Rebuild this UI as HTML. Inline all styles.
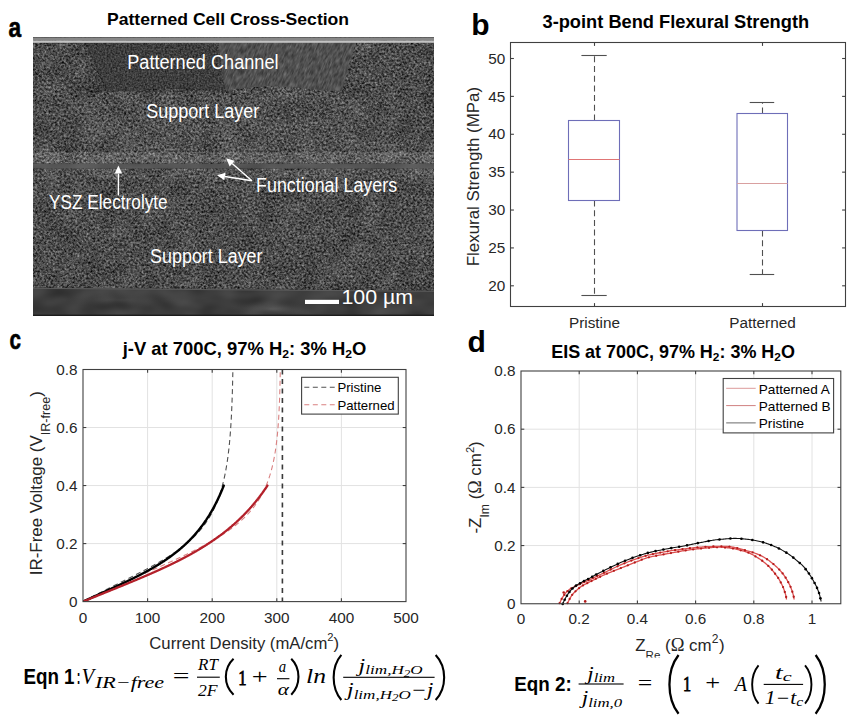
<!DOCTYPE html><html><head><meta charset="utf-8"><style>html,body{margin:0;padding:0;background:#fff;width:868px;height:720px;overflow:hidden}svg{display:block}</style></head><body>
<svg width="868" height="720" viewBox="0 0 868 720" font-family="Liberation Sans, sans-serif">
<defs><radialGradient id="blob"><stop offset="0" stop-color="rgb(88,88,88)"/><stop offset="1" stop-color="rgb(61,61,61)" stop-opacity="0"/></radialGradient><clipPath id="semclip"><rect x="33" y="37" width="401" height="279"/></clipPath><filter id="grain" x="0" y="0" width="100%" height="100%" color-interpolation-filters="sRGB"><feTurbulence type="fractalNoise" baseFrequency="0.45" numOctaves="3" seed="7" result="n"/><feColorMatrix in="n" type="matrix" values="1 0 0 0 0  1 0 0 0 0  1 0 0 0 0  0 0 0 0 1" result="g0"/><feGaussianBlur in="g0" stdDeviation="0.5" result="g"/><feTurbulence type="fractalNoise" baseFrequency="0.05" numOctaves="2" seed="4" result="n2"/><feColorMatrix in="n2" type="matrix" values="1 0 0 0 0  1 0 0 0 0  1 0 0 0 0  0 0 0 0 1" result="m"/><feComposite in="SourceGraphic" in2="g" operator="arithmetic" k1="0" k2="1" k3="0.7" k4="-0.35" result="s1"/><feComposite in="s1" in2="m" operator="arithmetic" k1="0" k2="1" k3="0.15" k4="-0.075"/></filter><filter id="grainfine" x="0" y="0" width="100%" height="100%" color-interpolation-filters="sRGB"><feTurbulence type="fractalNoise" baseFrequency="0.55" numOctaves="2" seed="3" result="n"/><feColorMatrix in="n" type="matrix" values="1 0 0 0 0  1 0 0 0 0  1 0 0 0 0  0 0 0 0 1" result="g"/><feComposite in="SourceGraphic" in2="g" operator="arithmetic" k1="0" k2="1" k3="0.4" k4="-0.2"/></filter><filter id="streak" x="0" y="0" width="100%" height="100%" color-interpolation-filters="sRGB"><feTurbulence type="fractalNoise" baseFrequency="0.6 0.15" numOctaves="2" seed="11" result="n"/><feColorMatrix in="n" type="matrix" values="1 0 0 0 0  1 0 0 0 0  1 0 0 0 0  0 0 0 0 1" result="g"/><feComposite in="SourceGraphic" in2="g" operator="arithmetic" k1="0" k2="1" k3="0.36" k4="-0.18"/></filter><filter id="smooth" x="0" y="0" width="100%" height="100%" color-interpolation-filters="sRGB"><feTurbulence type="fractalNoise" baseFrequency="0.03 0.06" numOctaves="2" seed="5" result="n"/><feColorMatrix in="n" type="matrix" values="1 0 0 0 0  1 0 0 0 0  1 0 0 0 0  0 0 0 0 1" result="g"/><feComposite in="SourceGraphic" in2="g" operator="arithmetic" k1="0" k2="1" k3="0.18" k4="-0.09"/></filter><clipPath id="cclip"><rect x="83" y="369.5" width="323" height="232.1"/></clipPath><clipPath id="dclip"><rect x="521" y="371" width="319.8" height="236"/></clipPath></defs>
<text x="471.2" y="35.4" font-size="30" font-weight="bold" fill="#000">b</text>
<text x="467.6" y="352.2" font-size="30" font-weight="bold" fill="#000">d</text>
<g clip-path="url(#semclip)">
<g filter="url(#grain)">
<rect x="33" y="37" width="401" height="279" fill="rgb(76,76,76)"/>
<polygon points="100,92 140,90 180,88 225,89 260,90 300,92 343,92 360,100 380,140 380,150 90,150 80,120" fill="rgb(82,82,82)" opacity="0.9"/>
<rect x="33" y="152" width="401" height="11.7" fill="rgb(96,96,96)"/>
<rect x="33" y="168.5" width="401" height="10" fill="rgb(84,84,84)"/>
</g>
<g filter="url(#grainfine)">
<polygon points="85,40 219,40 225,90 180,88.5 140,90 108,91.5 96,68" fill="rgb(62,62,62)"/>
</g>
<clipPath id="chanR"><polygon points="218,40 357,40 350,62 342,91 320,90 300,88 270,86 245,88 225,90"/></clipPath>
<g clip-path="url(#chanR)"><g transform="rotate(22 290 65)"><g filter="url(#streak)">
<rect x="190" y="-10" width="200" height="150" fill="rgb(80,80,80)"/>
</g></g></g>
<g filter="url(#smooth)">
<rect x="33" y="163.7" width="401" height="4.8" fill="rgb(86,86,86)"/>
</g>
<g filter="url(#smooth)">
<polygon points="33,287.8 434,290.8 434,316 33,316" fill="rgb(61,61,61)"/>
<ellipse cx="272" cy="309" rx="45" ry="9" fill="url(#blob)"/>
<ellipse cx="120" cy="300" rx="60" ry="8" fill="url(#blob)" opacity="0.5"/>
</g>
<line x1="33" y1="288.3" x2="434" y2="291.3" stroke="rgb(92,92,92)" stroke-width="1"/>
<rect x="33" y="314.6" width="401" height="1.6" fill="#1c1c1c"/>
<rect x="33" y="37" width="401" height="0.8" fill="rgb(90,90,90)"/>
<rect x="33" y="37.8" width="401" height="2.8" fill="rgb(135,135,135)"/>
<rect x="33" y="40.6" width="401" height="2.2" fill="rgb(195,195,195)"/>
</g>
<text x="127.2" y="68.5" font-size="20" fill="#fff" textLength="151.4" lengthAdjust="spacingAndGlyphs">Patterned Channel</text>
<text x="146.2" y="118.4" font-size="20" fill="#fff" textLength="113" lengthAdjust="spacingAndGlyphs">Support Layer</text>
<text x="256.1" y="191.7" font-size="20" fill="#fff" textLength="141" lengthAdjust="spacingAndGlyphs">Functional Layers</text>
<text x="49" y="208.8" font-size="20" fill="#fff" textLength="118.7" lengthAdjust="spacingAndGlyphs">YSZ Electrolyte</text>
<text x="150.1" y="263.2" font-size="20" fill="#fff" textLength="112.4" lengthAdjust="spacingAndGlyphs">Support Layer</text>
<text x="341.4" y="304.3" font-size="21" fill="#fff" textLength="71.8" lengthAdjust="spacingAndGlyphs">100 µm</text>
<rect x="305" y="299.8" width="34" height="4.2" fill="#fff"/>
<line x1="118.4" y1="195.5" x2="118.4" y2="173.5" stroke="#fff" stroke-width="1.4"/>
<polygon points="118.4,165.5 122.15,173.5 114.65,173.5" fill="#fff"/>
<line x1="252" y1="180.8" x2="232.14" y2="163.55" stroke="#fff" stroke-width="1.4"/>
<polygon points="226.1,158.3 234.6,160.72 229.68,166.38" fill="#fff"/>
<line x1="252" y1="180.8" x2="224.9" y2="176.46" stroke="#fff" stroke-width="1.4"/>
<polygon points="217,175.2 225.49,172.76 224.31,180.17" fill="#fff"/>
<rect x="510.5" y="42.5" width="335" height="264" fill="none" stroke="#404040" stroke-width="1.1"/>
<line x1="510.5" y1="285.8" x2="513.9" y2="285.8" stroke="#404040" stroke-width="1.1"/>
<line x1="842.1" y1="285.8" x2="845.5" y2="285.8" stroke="#404040" stroke-width="1.1"/>
<text x="505.2" y="291" font-size="15.3" fill="#262626" text-anchor="end">20</text>
<line x1="510.5" y1="247.92" x2="513.9" y2="247.92" stroke="#404040" stroke-width="1.1"/>
<line x1="842.1" y1="247.92" x2="845.5" y2="247.92" stroke="#404040" stroke-width="1.1"/>
<text x="505.2" y="253.12" font-size="15.3" fill="#262626" text-anchor="end">25</text>
<line x1="510.5" y1="210.03" x2="513.9" y2="210.03" stroke="#404040" stroke-width="1.1"/>
<line x1="842.1" y1="210.03" x2="845.5" y2="210.03" stroke="#404040" stroke-width="1.1"/>
<text x="505.2" y="215.23" font-size="15.3" fill="#262626" text-anchor="end">30</text>
<line x1="510.5" y1="172.15" x2="513.9" y2="172.15" stroke="#404040" stroke-width="1.1"/>
<line x1="842.1" y1="172.15" x2="845.5" y2="172.15" stroke="#404040" stroke-width="1.1"/>
<text x="505.2" y="177.35" font-size="15.3" fill="#262626" text-anchor="end">35</text>
<line x1="510.5" y1="134.27" x2="513.9" y2="134.27" stroke="#404040" stroke-width="1.1"/>
<line x1="842.1" y1="134.27" x2="845.5" y2="134.27" stroke="#404040" stroke-width="1.1"/>
<text x="505.2" y="139.47" font-size="15.3" fill="#262626" text-anchor="end">40</text>
<line x1="510.5" y1="96.38" x2="513.9" y2="96.38" stroke="#404040" stroke-width="1.1"/>
<line x1="842.1" y1="96.38" x2="845.5" y2="96.38" stroke="#404040" stroke-width="1.1"/>
<text x="505.2" y="101.58" font-size="15.3" fill="#262626" text-anchor="end">45</text>
<line x1="510.5" y1="58.5" x2="513.9" y2="58.5" stroke="#404040" stroke-width="1.1"/>
<line x1="842.1" y1="58.5" x2="845.5" y2="58.5" stroke="#404040" stroke-width="1.1"/>
<text x="505.2" y="63.7" font-size="15.3" fill="#262626" text-anchor="end">50</text>
<line x1="594.5" y1="42.5" x2="594.5" y2="45.9" stroke="#404040" stroke-width="1.1"/>
<line x1="594.5" y1="303.1" x2="594.5" y2="306.5" stroke="#404040" stroke-width="1.1"/>
<text x="594.5" y="327.8" font-size="15.3" fill="#262626" text-anchor="middle">Pristine</text>
<line x1="762.5" y1="42.5" x2="762.5" y2="45.9" stroke="#404040" stroke-width="1.1"/>
<line x1="762.5" y1="303.1" x2="762.5" y2="306.5" stroke="#404040" stroke-width="1.1"/>
<text x="762.5" y="327.8" font-size="15.3" fill="#262626" text-anchor="middle">Patterned</text>
<text transform="translate(478.6 176.6) rotate(-90)" font-size="16.9" fill="#262626" text-anchor="middle">Flexural Strength (MPa)</text>
<line x1="594.5" y1="120.5" x2="594.5" y2="55.5" stroke="#505050" stroke-width="1.1" stroke-dasharray="6 3.7"/>
<line x1="594.5" y1="200.5" x2="594.5" y2="295.5" stroke="#505050" stroke-width="1.1" stroke-dasharray="6 3.7"/>
<line x1="581.4" y1="55.5" x2="606.7" y2="55.5" stroke="#505050" stroke-width="1.1"/>
<line x1="581.4" y1="295.5" x2="606.7" y2="295.5" stroke="#505050" stroke-width="1.1"/>
<rect x="568.5" y="120.5" width="51" height="80" fill="none" stroke="#6e6eb8" stroke-width="1.1"/>
<line x1="568.5" y1="159.5" x2="619.5" y2="159.5" stroke="#e07575" stroke-width="1.1"/>
<line x1="762.5" y1="113.5" x2="762.5" y2="102.5" stroke="#505050" stroke-width="1.1" stroke-dasharray="6 3.7"/>
<line x1="762.5" y1="230.5" x2="762.5" y2="274.5" stroke="#505050" stroke-width="1.1" stroke-dasharray="6 3.7"/>
<line x1="749.7" y1="102.5" x2="774.2" y2="102.5" stroke="#505050" stroke-width="1.1"/>
<line x1="749.7" y1="274.5" x2="774.2" y2="274.5" stroke="#505050" stroke-width="1.1"/>
<rect x="737" y="113.5" width="50.5" height="117" fill="none" stroke="#6e6eb8" stroke-width="1.1"/>
<line x1="737" y1="183.5" x2="787.5" y2="183.5" stroke="#d9a0a0" stroke-width="1.1"/>
<line x1="147.6" y1="369.5" x2="147.6" y2="601.6" stroke="#e2e2e2" stroke-width="1"/>
<line x1="212.2" y1="369.5" x2="212.2" y2="601.6" stroke="#e2e2e2" stroke-width="1"/>
<line x1="276.8" y1="369.5" x2="276.8" y2="601.6" stroke="#e2e2e2" stroke-width="1"/>
<line x1="341.4" y1="369.5" x2="341.4" y2="601.6" stroke="#e2e2e2" stroke-width="1"/>
<line x1="83" y1="543.58" x2="406" y2="543.58" stroke="#e2e2e2" stroke-width="1"/>
<line x1="83" y1="485.55" x2="406" y2="485.55" stroke="#e2e2e2" stroke-width="1"/>
<line x1="83" y1="427.52" x2="406" y2="427.52" stroke="#e2e2e2" stroke-width="1"/>
<line x1="282.4" y1="369.5" x2="282.4" y2="601.6" stroke="#3a3a3a" stroke-width="1.6" stroke-dasharray="5 4.5"/>
<g clip-path="url(#cclip)">
<path d="M83 601.6 L83.16 601.52 L83.32 601.45 L83.48 601.37 L83.65 601.29 L83.81 601.21 L83.97 601.14 L84.13 601.06 L84.29 600.98 L84.45 600.9 L84.61 600.83 L84.78 600.75 L84.94 600.67 L85.1 600.6 L85.26 600.52 L85.42 600.44 L85.58 600.37 L85.75 600.29 L85.91 600.21 L86.07 600.13 L86.23 600.06 L86.39 599.98 L86.55 599.9 L86.71 599.83 L86.88 599.75 L87.04 599.67 L87.2 599.6 L87.36 599.52 L87.52 599.44 L87.68 599.37 L87.84 599.29 L88.01 599.21 L88.17 599.14 L88.33 599.06 L88.49 598.98 L88.65 598.91 L88.81 598.83 L88.98 598.75 L89.14 598.68 L89.3 598.6 L89.46 598.53 L89.62 598.45 L89.78 598.37 L89.94 598.3 L90.11 598.22 L90.27 598.14 L90.43 598.07 L90.59 597.99 L90.75 597.92 L90.91 597.84 L91.08 597.76 L91.24 597.69 L91.4 597.61 L91.56 597.53 L91.72 597.46 L91.88 597.38 L92.04 597.31 L92.21 597.23 L92.37 597.15 L92.53 597.08 L92.69 597 L92.85 596.93 L93.01 596.85 L93.17 596.77 L93.34 596.7 L93.5 596.62 L93.66 596.55 L93.82 596.47 L93.98 596.4 L94.14 596.32 L94.31 596.24 L94.47 596.17 L94.63 596.09 L94.79 596.02 L94.95 595.94 L95.11 595.87 L95.27 595.79 L95.44 595.72 L95.6 595.64 L95.76 595.56 L95.92 595.49 L96.08 595.41 L96.24 595.34 L96.4 595.26 L96.57 595.19 L96.73 595.11 L96.89 595.04 L97.05 594.96 L97.21 594.89 L97.37 594.81 L97.53 594.74 L97.7 594.66 L97.86 594.58 L98.02 594.51 L98.18 594.43 L98.34 594.36 L98.5 594.28 L98.67 594.21 L98.83 594.13 L98.99 594.06 L99.15 593.98 L99.31 593.91 L99.47 593.83 L99.63 593.76 L99.8 593.68 L99.96 593.61 L100.12 593.53 L100.28 593.46 L100.44 593.38 L100.6 593.31 L100.77 593.23 L100.93 593.16 L101.09 593.08 L101.25 593.01 L101.41 592.94 L101.57 592.86 L101.73 592.79 L101.9 592.71 L102.06 592.64 L102.22 592.56 L102.38 592.49 L102.54 592.41 L102.7 592.34 L102.86 592.26 L103.03 592.19 L103.19 592.11 L103.35 592.04 L103.51 591.97 L103.67 591.89 L103.83 591.82 L104 591.74 L104.16 591.67 L104.32 591.59 L104.48 591.52 L104.64 591.44 L104.8 591.37 L104.96 591.3 L105.13 591.22 L105.29 591.15 L105.45 591.07 L105.61 591 L105.77 590.92 L105.93 590.85 L106.09 590.78 L106.26 590.7 L106.42 590.63 L106.58 590.55 L106.74 590.48 L106.9 590.4 L107.06 590.33 L107.22 590.26 L107.39 590.18 L107.55 590.11 L107.71 590.03 L107.87 589.96 L108.03 589.89 L108.19 589.81 L108.36 589.74 L108.52 589.66 L108.68 589.59 L108.84 589.52 L109 589.44 L109.16 589.37 L109.32 589.3 L109.49 589.22 L109.65 589.15 L109.81 589.07 L109.97 589 L110.13 588.93 L110.29 588.85 L110.45 588.78 L110.62 588.71 L110.78 588.63 L110.94 588.56 L111.1 588.48 L111.26 588.41 L111.42 588.34 L111.59 588.26 L111.75 588.19 L111.91 588.12 L112.07 588.04 L112.23 587.97 L112.39 587.9 L112.55 587.82 L112.72 587.75 L112.88 587.68 L113.04 587.6 L113.2 587.53 L113.36 587.45 L113.52 587.38 L113.69 587.31 L113.85 587.23 L114.01 587.16 L114.17 587.09 L114.33 587.01 L114.49 586.94 L114.65 586.87 L114.82 586.79 L114.98 586.72 L115.14 586.65 L115.3 586.57 L115.46 586.5 L115.62 586.43 L115.78 586.36 L115.95 586.28 L116.11 586.21 L116.27 586.14 L116.43 586.06 L116.59 585.99 L116.75 585.92 L116.91 585.84 L117.08 585.77 L117.24 585.7 L117.4 585.62 L117.56 585.55 L117.72 585.48 L117.88 585.41 L118.05 585.33 L118.21 585.26 L118.37 585.19 L118.53 585.11 L118.69 585.04 L118.85 584.97 L119.01 584.89 L119.18 584.82 L119.34 584.75 L119.5 584.68 L119.66 584.6 L119.82 584.53 L119.98 584.46 L120.15 584.38 L120.31 584.31 L120.47 584.24 L120.63 584.17 L120.79 584.09 L120.95 584.02 L121.11 583.95 L121.28 583.88 L121.44 583.8 L121.6 583.73 L121.76 583.66 L121.92 583.58 L122.08 583.51 L122.24 583.44 L122.41 583.37 L122.57 583.29 L122.73 583.22 L122.89 583.15 L123.05 583.08 L123.21 583 L123.38 582.93 L123.54 582.86 L123.7 582.79 L123.86 582.71 L124.02 582.64 L124.18 582.57 L124.34 582.5 L124.51 582.42 L124.67 582.35 L124.83 582.28 L124.99 582.21 L125.15 582.13 L125.31 582.06 L125.47 581.99 L125.64 581.92 L125.8 581.84 L125.96 581.77 L126.12 581.7 L126.28 581.63 L126.44 581.55 L126.6 581.48 L126.77 581.41 L126.93 581.34 L127.09 581.26 L127.25 581.19 L127.41 581.12 L127.57 581.05 L127.74 580.98 L127.9 580.9 L128.06 580.83 L128.22 580.76 L128.38 580.69 L128.54 580.61 L128.7 580.54 L128.87 580.47 L129.03 580.4 L129.19 580.33 L129.35 580.25 L129.51 580.18 L129.67 580.11 L129.84 580.04 L130 579.96 L130.16 579.89 L130.32 579.82 L130.48 579.75 L130.64 579.68 L130.8 579.6 L130.97 579.53 L131.13 579.46 L131.29 579.39 L131.45 579.32 L131.61 579.24 L131.77 579.17 L131.93 579.1 L132.1 579.03 L132.26 578.95 L132.42 578.88 L132.58 578.81 L132.74 578.74 L132.9 578.67 L133.06 578.59 L133.23 578.52 L133.39 578.45 L133.55 578.38 L133.71 578.31 L133.87 578.23 L134.03 578.16 L134.2 578.09 L134.36 578.02 L134.52 577.95 L134.68 577.87 L134.84 577.8 L135 577.73 L135.16 577.66 L135.33 577.59 L135.49 577.51 L135.65 577.44 L135.81 577.37 L135.97 577.3 L136.13 577.23 L136.3 577.16 L136.46 577.08 L136.62 577.01 L136.78 576.94 L136.94 576.87 L137.1 576.8 L137.26 576.72 L137.43 576.65 L137.59 576.58 L137.75 576.51 L137.91 576.44 L138.07 576.36 L138.23 576.29 L138.39 576.22 L138.56 576.15 L138.72 576.08 L138.88 576.01 L139.04 575.93 L139.2 575.86 L139.36 575.79 L139.53 575.72 L139.69 575.65 L139.85 575.57 L140.01 575.5 L140.17 575.43 L140.33 575.36 L140.49 575.29 L140.66 575.21 L140.82 575.14 L140.98 575.07 L141.14 575 L141.3 574.93 L141.46 574.86 L141.62 574.78 L141.79 574.71 L141.95 574.64 L142.11 574.57 L142.27 574.5 L142.43 574.42 L142.59 574.35 L142.75 574.28 L142.92 574.21 L143.08 574.14 L143.24 574.07 L143.4 573.99 L143.56 573.92 L143.72 573.85 L143.89 573.78 L144.05 573.71 L144.21 573.63 L144.37 573.56 L144.53 573.49 L144.69 573.42 L144.85 573.35 L145.02 573.28 L145.18 573.2 L145.34 573.13 L145.5 573.06 L145.66 572.99 L145.82 572.92 L145.99 572.84 L146.15 572.77 L146.31 572.7 L146.47 572.63 L146.63 572.56 L146.79 572.49 L146.95 572.41 L147.12 572.34 L147.28 572.27 L147.44 572.2 L147.6 572.13 L147.76 572.05 L147.92 571.98 L148.08 571.91 L148.25 571.84 L148.41 571.77 L148.57 571.7 L148.73 571.62 L148.89 571.55 L149.05 571.48 L149.22 571.41 L149.38 571.34 L149.54 571.26 L149.7 571.19 L149.86 571.12 L150.02 571.05 L150.18 570.98 L150.35 570.9 L150.51 570.83 L150.67 570.76 L150.83 570.69 L150.99 570.62 L151.15 570.54 L151.31 570.47 L151.48 570.4 L151.64 570.33 L151.8 570.26 L151.96 570.18 L152.12 570.11 L152.28 570.04 L152.44 569.97 L152.61 569.9 L152.77 569.82 L152.93 569.75 L153.09 569.68 L153.25 569.61 L153.41 569.54 L153.58 569.46 L153.74 569.39 L153.9 569.32 L154.06 569.25 L154.22 569.18 L154.38 569.1 L154.54 569.03 L154.71 568.96 L154.87 568.89 L155.03 568.81 L155.19 568.74 L155.35 568.67 L155.51 568.6 L155.68 568.53 L155.84 568.45 L156 568.38 L156.16 568.31 L156.32 568.24 L156.48 568.16 L156.64 568.09 L156.81 568.02 L156.97 567.95 L157.13 567.88 L157.29 567.8 L157.45 567.73 L157.61 567.66 L157.77 567.59 L157.94 567.51 L158.1 567.44 L158.26 567.37 L158.42 567.3 L158.58 567.22 L158.74 567.15 L158.91 567.08 L159.07 567.01 L159.23 566.93 L159.39 566.86 L159.55 566.79 L159.71 566.72 L159.87 566.64 L160.04 566.57 L160.2 566.5 L160.36 566.43 L160.52 566.35 L160.68 566.28 L160.84 566.21 L161 566.14 L161.17 566.06 L161.33 565.99 L161.49 565.92 L161.65 565.85 L161.81 565.77 L161.97 565.7 L162.13 565.63 L162.3 565.56 L162.46 565.48 L162.62 565.41 L162.78 565.34 L162.94 565.26 L163.1 565.19 L163.27 565.12 L163.43 565.05 L163.59 564.97 L163.75 564.9 L163.91 564.83 L164.07 564.75 L164.23 564.68 L164.4 564.61 L164.56 564.53 L164.72 564.46 L164.88 564.39 L165.04 564.32 L165.2 564.24 L165.37 564.17 L165.53 564.1 L165.69 564.02 L165.85 563.95 L166.01 563.88 L166.17 563.8 L166.33 563.73 L166.5 563.66 L166.66 563.58 L166.82 563.51 L166.98 563.44 L167.14 563.36 L167.3 563.29 L167.46 563.22 L167.63 563.14 L167.79 563.07 L167.95 563 L168.11 562.92 L168.27 562.85 L168.43 562.78 L168.59 562.7 L168.76 562.63 L168.92 562.55 L169.08 562.48 L169.24 562.41 L169.4 562.33 L169.56 562.26 L169.73 562.19 L169.89 562.11 L170.05 562.04 L170.21 561.97 L170.37 561.89 L170.53 561.82 L170.69 561.74 L170.86 561.67 L171.02 561.6 L171.18 561.52 L171.34 561.45 L171.5 561.37 L171.66 561.3 L171.82 561.23 L171.99 561.15 L172.15 561.08 L172.31 561 L172.47 560.93 L172.63 560.85 L172.79 560.78 L172.96 560.71 L173.12 560.63 L173.28 560.56 L173.44 560.48 L173.6 560.41 L173.76 560.33 L173.92 560.26 L174.09 560.18 L174.25 560.11 L174.41 560.04 L174.57 559.96 L174.73 559.89 L174.89 559.81 L175.06 559.74 L175.22 559.66 L175.38 559.59 L175.54 559.51 L175.7 559.44 L175.86 559.36 L176.02 559.29 L176.19 559.21 L176.35 559.14 L176.51 559.06 L176.67 558.99 L176.83 558.91 L176.99 558.84 L177.15 558.76 L177.32 558.69 L177.48 558.61 L177.64 558.54 L177.8 558.46 L177.96 558.39 L178.12 558.31 L178.28 558.23 L178.45 558.16 L178.61 558.08 L178.77 558.01 L178.93 557.93 L179.09 557.86 L179.25 557.78 L179.42 557.7 L179.58 557.63 L179.74 557.55 L179.9 557.48 L180.06 557.4 L180.22 557.33 L180.38 557.25 L180.55 557.17 L180.71 557.1 L180.87 557.02 L181.03 556.94 L181.19 556.87 L181.35 556.79 L181.51 556.72 L181.68 556.64 L181.84 556.56 L182 556.49 L182.16 556.41 L182.32 556.33 L182.48 556.26 L182.65 556.18 L182.81 556.1 L182.97 556.03 L183.13 555.95 L183.29 555.87 L183.45 555.8 L183.61 555.72 L183.78 555.64 L183.94 555.57 L184.1 555.49 L184.26 555.41 L184.42 555.33 L184.58 555.26 L184.75 555.18 L184.91 555.1 L185.07 555.03 L185.23 554.95 L185.39 554.87 L185.55 554.79 L185.71 554.71 L185.88 554.64 L186.04 554.56 L186.2 554.48 L186.36 554.4 L186.52 554.33 L186.68 554.25 L186.84 554.17 L187.01 554.09 L187.17 554.01 L187.33 553.94 L187.49 553.86 L187.65 553.78 L187.81 553.7 L187.97 553.62 L188.14 553.54 L188.3 553.47 L188.46 553.39 L188.62 553.31 L188.78 553.23 L188.94 553.15 L189.11 553.07 L189.27 552.99 L189.43 552.91 L189.59 552.84 L189.75 552.76 L189.91 552.68 L190.07 552.6 L190.24 552.52 L190.4 552.44 L190.56 552.36 L190.72 552.28 L190.88 552.2 L191.04 552.12 L191.2 552.04 L191.37 551.96 L191.53 551.88 L191.69 551.8 L191.85 551.72 L192.01 551.64 L192.17 551.56 L192.34 551.48 L192.5 551.4 L192.66 551.32 L192.82 551.24 L192.98 551.16 L193.14 551.08 L193.3 551 L193.47 550.92 L193.63 550.84 L193.79 550.76 L193.95 550.68 L194.11 550.6 L194.27 550.52 L194.44 550.43 L194.6 550.35 L194.76 550.27 L194.92 550.19 L195.08 550.11 L195.24 550.03 L195.4 549.95 L195.57 549.86 L195.73 549.78 L195.89 549.7 L196.05 549.62 L196.21 549.54 L196.37 549.46 L196.53 549.37 L196.7 549.29 L196.86 549.21 L197.02 549.13 L197.18 549.04 L197.34 548.96 L197.5 548.88 L197.67 548.8 L197.83 548.71 L197.99 548.63 L198.15 548.55 L198.31 548.47 L198.47 548.38 L198.63 548.3 L198.8 548.22 L198.96 548.13 L199.12 548.05 L199.28 547.97 L199.44 547.88 L199.6 547.8 L199.76 547.71 L199.93 547.63 L200.09 547.55 L200.25 547.46 L200.41 547.38 L200.57 547.29 L200.73 547.21 L200.89 547.12 L201.06 547.04 L201.22 546.96 L201.38 546.87 L201.54 546.79 L201.7 546.7 L201.86 546.62 L202.03 546.53 L202.19 546.45 L202.35 546.36 L202.51 546.27 L202.67 546.19 L202.83 546.1 L202.99 546.02 L203.16 545.93 L203.32 545.85 L203.48 545.76 L203.64 545.67 L203.8 545.59 L203.96 545.5 L204.12 545.41 L204.29 545.33 L204.45 545.24 L204.61 545.15 L204.77 545.07 L204.93 544.98 L205.09 544.89 L205.26 544.8 L205.42 544.72 L205.58 544.63 L205.74 544.54 L205.9 544.45 L206.06 544.37 L206.22 544.28 L206.39 544.19 L206.55 544.1 L206.71 544.01 L206.87 543.93 L207.03 543.84 L207.19 543.75 L207.36 543.66 L207.52 543.57 L207.68 543.48 L207.84 543.39 L208 543.3 L208.16 543.21 L208.32 543.12 L208.49 543.03 L208.65 542.94 L208.81 542.85 L208.97 542.76 L209.13 542.67 L209.29 542.58 L209.45 542.49 L209.62 542.4 L209.78 542.31 L209.94 542.22 L210.1 542.13 L210.26 542.04 L210.42 541.95 L210.58 541.86 L210.75 541.76 L210.91 541.67 L211.07 541.58 L211.23 541.49 L211.39 541.4 L211.55 541.3 L211.72 541.21 L211.88 541.12 L212.04 541.03 L212.2 540.93 L212.36 540.84 L212.52 540.75 L212.68 540.65 L212.85 540.56 L213.01 540.47 L213.17 540.37 L213.33 540.28 L213.49 540.18 L213.65 540.09 L213.81 540 L213.98 539.9 L214.14 539.81 L214.3 539.71 L214.46 539.62 L214.62 539.52 L214.78 539.43 L214.95 539.33 L215.11 539.23 L215.27 539.14 L215.43 539.04 L215.59 538.95 L215.75 538.85 L215.91 538.75 L216.08 538.66 L216.24 538.56 L216.4 538.46 L216.56 538.36 L216.72 538.27 L216.88 538.17 L217.04 538.07 L217.21 537.97 L217.37 537.88 L217.53 537.78 L217.69 537.68 L217.85 537.58 L218.01 537.48 L218.18 537.38 L218.34 537.28 L218.5 537.18 L218.66 537.08 L218.82 536.98 L218.98 536.88 L219.14 536.78 L219.31 536.68 L219.47 536.58 L219.63 536.48 L219.79 536.38 L219.95 536.28 L220.11 536.18 L220.28 536.08 L220.44 535.97 L220.6 535.87 L220.76 535.77 L220.92 535.67 L221.08 535.57 L221.24 535.46 L221.41 535.36 L221.57 535.26 L221.73 535.15 L221.89 535.05 L222.05 534.94 L222.21 534.84 L222.37 534.74 L222.54 534.63 L222.7 534.53 L222.86 534.42 L223.02 534.32 L223.18 534.21 L223.34 534.1 L223.5 534 L223.67 533.89 L223.83 533.79 L223.99 533.68 L224.15 533.57 L224.31 533.47 L224.47 533.36 L224.64 533.25 L224.8 533.14 L224.96 533.03 L225.12 532.93 L225.28 532.82 L225.44 532.71 L225.6 532.6 L225.77 532.49 L225.93 532.38 L226.09 532.27 L226.25 532.16 L226.41 532.05 L226.57 531.94 L226.74 531.83 L226.9 531.72 L227.06 531.6 L227.22 531.49 L227.38 531.38 L227.54 531.27 L227.7 531.16 L227.87 531.04 L228.03 530.93 L228.19 530.82 L228.35 530.7 L228.51 530.59 L228.67 530.47 L228.83 530.36 L229 530.24 L229.16 530.13 L229.32 530.01 L229.48 529.9 L229.64 529.78 L229.8 529.66 L229.97 529.55 L230.13 529.43 L230.29 529.31 L230.45 529.2 L230.61 529.08 L230.77 528.96 L230.93 528.84 L231.1 528.72 L231.26 528.6 L231.42 528.48 L231.58 528.36 L231.74 528.24 L231.9 528.12 L232.06 528 L232.23 527.88 L232.39 527.76 L232.55 527.64 L232.71 527.51 L232.87 527.39 L233.03 527.27 L233.19 527.14 L233.36 527.02 L233.52 526.9 L233.68 526.77 L233.84 526.65 L234 526.52 L234.16 526.4 L234.33 526.27 L234.49 526.14 L234.65 526.02 L234.81 525.89 L234.97 525.76 L235.13 525.63 L235.29 525.51 L235.46 525.38 L235.62 525.25 L235.78 525.12 L235.94 524.99 L236.1 524.86 L236.26 524.73 L236.43 524.6 L236.59 524.46 L236.75 524.33 L236.91 524.2 L237.07 524.07 L237.23 523.93 L237.39 523.8 L237.56 523.66 L237.72 523.53 L237.88 523.39 L238.04 523.26 L238.2 523.12 L238.36 522.99 L238.52 522.85 L238.69 522.71 L238.85 522.57 L239.01 522.44 L239.17 522.3 L239.33 522.16 L239.49 522.02 L239.66 521.88 L239.82 521.74 L239.98 521.59 L240.14 521.45 L240.3 521.31 L240.46 521.17 L240.62 521.02 L240.79 520.88 L240.95 520.74 L241.11 520.59 L241.27 520.44 L241.43 520.3 L241.59 520.15 L241.75 520 L241.92 519.86 L242.08 519.71 L242.24 519.56 L242.4 519.41 L242.56 519.26 L242.72 519.11 L242.88 518.96 L243.05 518.81 L243.21 518.65 L243.37 518.5 L243.53 518.35 L243.69 518.19 L243.85 518.04 L244.02 517.88 L244.18 517.73 L244.34 517.57 L244.5 517.41 L244.66 517.25 L244.82 517.09 L244.98 516.93 L245.15 516.77 L245.31 516.61 L245.47 516.45 L245.63 516.29 L245.79 516.13 L245.95 515.96 L246.12 515.8 L246.28 515.63 L246.44 515.47 L246.6 515.3 L246.76 515.13 L246.92 514.97 L247.08 514.8 L247.25 514.63 L247.41 514.46 L247.57 514.29 L247.73 514.11 L247.89 513.94 L248.05 513.77 L248.21 513.59 L248.38 513.42 L248.54 513.24 L248.7 513.06 L248.86 512.89 L249.02 512.71 L249.18 512.53 L249.34 512.35 L249.51 512.17 L249.67 511.98 L249.83 511.8 L249.99 511.62 L250.15 511.43 L250.31 511.25 L250.48 511.06 L250.64 510.87 L250.8 510.68 L250.96 510.49 L251.12 510.3 L251.28 510.11 L251.44 509.92 L251.61 509.73 L251.77 509.53 L251.93 509.33 L252.09 509.14 L252.25 508.94 L252.41 508.74 L252.57 508.54 L252.74 508.34 L252.9 508.14 L253.06 507.93 L253.22 507.73 L253.38 507.52 L253.54 507.32 L253.71 507.11 L253.87 506.9 L254.03 506.69 L254.19 506.47 L254.35 506.26 L254.51 506.05 L254.67 505.83 L254.84 505.61 L255 505.4 L255.16 505.18 L255.32 504.95 L255.48 504.73 L255.64 504.51 L255.81 504.28 L255.97 504.06 L256.13 503.83 L256.29 503.6 L256.45 503.37 L256.61 503.13 L256.77 502.9 L256.94 502.66 L257.1 502.43 L257.26 502.19 L257.42 501.95 L257.58 501.7 L257.74 501.46 L257.9 501.21 L258.07 500.97 L258.23 500.72 L258.39 500.47 L258.55 500.21 L258.71 499.96 L258.87 499.7 L259.03 499.45 L259.2 499.18 L259.36 498.92 L259.52 498.66 L259.68 498.39 L259.84 498.12 L260 497.85 L260.17 497.58 L260.33 497.31 L260.49 497.03 L260.65 496.75 L260.81 496.47 L260.97 496.19 L261.13 495.9 L261.3 495.61 L261.46 495.32 L261.62 495.03 L261.78 494.74 L261.94 494.44 L262.1 494.14 L262.26 493.84 L262.43 493.53 L262.59 493.22 L262.75 492.91 L262.91 492.6 L263.07 492.28 L263.23 491.96 L263.4 491.64 L263.56 491.31 L263.72 490.98 L263.88 490.65 L264.04 490.32 L264.2 489.98 L264.36 489.64 L264.53 489.29 L264.69 488.94 L264.85 488.59 L265.01 488.24 L265.17 487.88 L265.33 487.52 L265.5 487.15 L265.66 486.78 L265.82 486.4 L265.98 486.02 L266.14 485.64 L266.3 485.26 L266.46 484.86 L266.63 484.47 L266.79 484.07 L266.95 483.66 L267.11 483.25 L267.27 482.84 L267.43 482.42 L267.59 481.99 L267.76 481.56 L267.92 481.13 L268.08 480.69 L268.24 480.24 L268.4 479.79 L268.56 479.33 L268.73 478.86 L268.89 478.39 L269.05 477.92 L269.21 477.43 L269.37 476.94 L269.53 476.44 L269.69 475.94 L269.86 475.43 L270.02 474.91 L270.18 474.38 L270.34 473.84 L270.5 473.3 L270.66 472.74 L270.82 472.18 L270.99 471.61 L271.15 471.03 L271.31 470.44 L271.47 469.84 L271.63 469.22 L271.79 468.6 L271.96 467.97 L272.12 467.32 L272.28 466.66 L272.44 465.99 L272.6 465.31 L272.76 464.61 L272.92 463.9 L273.09 463.18 L273.25 462.43 L273.41 461.68 L273.57 460.9 L273.73 460.11 L273.89 459.3 L274.05 458.47 L274.22 457.62 L274.38 456.75 L274.54 455.86 L274.7 454.94 L274.86 454 L275.02 453.03 L275.19 452.04 L275.35 451.01 L275.51 449.96 L275.67 448.87 L275.83 447.75 L275.99 446.59 L276.15 445.39 L276.32 444.15 L276.48 442.86 L276.64 441.53 L276.8 440.14 L276.96 438.7 L277.12 437.19 L277.28 435.62 L277.45 433.97 L277.61 432.24 L277.77 430.43 L277.93 428.51 L278.09 426.49 L278.25 424.34 L278.41 422.06 L278.58 419.61 L278.74 416.99 L278.9 414.15 L279.06 411.07 L279.22 407.69 L279.38 403.96 L279.55 399.79 L279.71 395.07 L279.87 389.62 L280.03 383.19 L280.19 375.33 L280.33 366.6" fill="none" stroke="#d98080" stroke-width="1.1" stroke-dasharray="5 3.5"/>
<path d="M83 601.6 L83.16 601.51 L83.32 601.43 L83.48 601.34 L83.65 601.26 L83.81 601.17 L83.97 601.09 L84.13 601 L84.29 600.92 L84.45 600.83 L84.61 600.74 L84.78 600.66 L84.94 600.57 L85.1 600.49 L85.26 600.4 L85.42 600.32 L85.58 600.23 L85.75 600.15 L85.91 600.06 L86.07 599.98 L86.23 599.89 L86.39 599.81 L86.55 599.72 L86.71 599.64 L86.88 599.55 L87.04 599.47 L87.2 599.38 L87.36 599.3 L87.52 599.21 L87.68 599.13 L87.84 599.04 L88.01 598.96 L88.17 598.87 L88.33 598.79 L88.49 598.71 L88.65 598.62 L88.81 598.54 L88.98 598.45 L89.14 598.37 L89.3 598.28 L89.46 598.2 L89.62 598.11 L89.78 598.03 L89.94 597.95 L90.11 597.86 L90.27 597.78 L90.43 597.69 L90.59 597.61 L90.75 597.53 L90.91 597.44 L91.08 597.36 L91.24 597.27 L91.4 597.19 L91.56 597.11 L91.72 597.02 L91.88 596.94 L92.04 596.85 L92.21 596.77 L92.37 596.69 L92.53 596.6 L92.69 596.52 L92.85 596.44 L93.01 596.35 L93.17 596.27 L93.34 596.18 L93.5 596.1 L93.66 596.02 L93.82 595.93 L93.98 595.85 L94.14 595.77 L94.31 595.68 L94.47 595.6 L94.63 595.52 L94.79 595.43 L94.95 595.35 L95.11 595.27 L95.27 595.18 L95.44 595.1 L95.6 595.02 L95.76 594.93 L95.92 594.85 L96.08 594.77 L96.24 594.68 L96.4 594.6 L96.57 594.52 L96.73 594.44 L96.89 594.35 L97.05 594.27 L97.21 594.19 L97.37 594.1 L97.53 594.02 L97.7 593.94 L97.86 593.86 L98.02 593.77 L98.18 593.69 L98.34 593.61 L98.5 593.52 L98.67 593.44 L98.83 593.36 L98.99 593.28 L99.15 593.19 L99.31 593.11 L99.47 593.03 L99.63 592.95 L99.8 592.86 L99.96 592.78 L100.12 592.7 L100.28 592.62 L100.44 592.53 L100.6 592.45 L100.77 592.37 L100.93 592.29 L101.09 592.2 L101.25 592.12 L101.41 592.04 L101.57 591.96 L101.73 591.87 L101.9 591.79 L102.06 591.71 L102.22 591.63 L102.38 591.55 L102.54 591.46 L102.7 591.38 L102.86 591.3 L103.03 591.22 L103.19 591.14 L103.35 591.05 L103.51 590.97 L103.67 590.89 L103.83 590.81 L104 590.73 L104.16 590.64 L104.32 590.56 L104.48 590.48 L104.64 590.4 L104.8 590.32 L104.96 590.23 L105.13 590.15 L105.29 590.07 L105.45 589.99 L105.61 589.91 L105.77 589.83 L105.93 589.74 L106.09 589.66 L106.26 589.58 L106.42 589.5 L106.58 589.42 L106.74 589.33 L106.9 589.25 L107.06 589.17 L107.22 589.09 L107.39 589.01 L107.55 588.93 L107.71 588.85 L107.87 588.76 L108.03 588.68 L108.19 588.6 L108.36 588.52 L108.52 588.44 L108.68 588.36 L108.84 588.27 L109 588.19 L109.16 588.11 L109.32 588.03 L109.49 587.95 L109.65 587.87 L109.81 587.79 L109.97 587.7 L110.13 587.62 L110.29 587.54 L110.45 587.46 L110.62 587.38 L110.78 587.3 L110.94 587.22 L111.1 587.14 L111.26 587.05 L111.42 586.97 L111.59 586.89 L111.75 586.81 L111.91 586.73 L112.07 586.65 L112.23 586.57 L112.39 586.49 L112.55 586.4 L112.72 586.32 L112.88 586.24 L113.04 586.16 L113.2 586.08 L113.36 586 L113.52 585.92 L113.69 585.84 L113.85 585.76 L114.01 585.67 L114.17 585.59 L114.33 585.51 L114.49 585.43 L114.65 585.35 L114.82 585.27 L114.98 585.19 L115.14 585.11 L115.3 585.03 L115.46 584.94 L115.62 584.86 L115.78 584.78 L115.95 584.7 L116.11 584.62 L116.27 584.54 L116.43 584.46 L116.59 584.38 L116.75 584.3 L116.91 584.21 L117.08 584.13 L117.24 584.05 L117.4 583.97 L117.56 583.89 L117.72 583.81 L117.88 583.73 L118.05 583.65 L118.21 583.57 L118.37 583.49 L118.53 583.4 L118.69 583.32 L118.85 583.24 L119.01 583.16 L119.18 583.08 L119.34 583 L119.5 582.92 L119.66 582.84 L119.82 582.76 L119.98 582.68 L120.15 582.59 L120.31 582.51 L120.47 582.43 L120.63 582.35 L120.79 582.27 L120.95 582.19 L121.11 582.11 L121.28 582.03 L121.44 581.95 L121.6 581.87 L121.76 581.78 L121.92 581.7 L122.08 581.62 L122.24 581.54 L122.41 581.46 L122.57 581.38 L122.73 581.3 L122.89 581.22 L123.05 581.14 L123.21 581.05 L123.38 580.97 L123.54 580.89 L123.7 580.81 L123.86 580.73 L124.02 580.65 L124.18 580.57 L124.34 580.49 L124.51 580.41 L124.67 580.32 L124.83 580.24 L124.99 580.16 L125.15 580.08 L125.31 580 L125.47 579.92 L125.64 579.84 L125.8 579.76 L125.96 579.67 L126.12 579.59 L126.28 579.51 L126.44 579.43 L126.6 579.35 L126.77 579.27 L126.93 579.19 L127.09 579.11 L127.25 579.02 L127.41 578.94 L127.57 578.86 L127.74 578.78 L127.9 578.7 L128.06 578.62 L128.22 578.54 L128.38 578.45 L128.54 578.37 L128.7 578.29 L128.87 578.21 L129.03 578.13 L129.19 578.05 L129.35 577.97 L129.51 577.88 L129.67 577.8 L129.84 577.72 L130 577.64 L130.16 577.56 L130.32 577.48 L130.48 577.39 L130.64 577.31 L130.8 577.23 L130.97 577.15 L131.13 577.07 L131.29 576.98 L131.45 576.9 L131.61 576.82 L131.77 576.74 L131.93 576.66 L132.1 576.58 L132.26 576.49 L132.42 576.41 L132.58 576.33 L132.74 576.25 L132.9 576.16 L133.06 576.08 L133.23 576 L133.39 575.92 L133.55 575.84 L133.71 575.75 L133.87 575.67 L134.03 575.59 L134.2 575.51 L134.36 575.42 L134.52 575.34 L134.68 575.26 L134.84 575.18 L135 575.1 L135.16 575.01 L135.33 574.93 L135.49 574.85 L135.65 574.77 L135.81 574.68 L135.97 574.6 L136.13 574.52 L136.3 574.43 L136.46 574.35 L136.62 574.27 L136.78 574.19 L136.94 574.1 L137.1 574.02 L137.26 573.94 L137.43 573.85 L137.59 573.77 L137.75 573.69 L137.91 573.61 L138.07 573.52 L138.23 573.44 L138.39 573.36 L138.56 573.27 L138.72 573.19 L138.88 573.11 L139.04 573.02 L139.2 572.94 L139.36 572.86 L139.53 572.77 L139.69 572.69 L139.85 572.61 L140.01 572.52 L140.17 572.44 L140.33 572.35 L140.49 572.27 L140.66 572.19 L140.82 572.1 L140.98 572.02 L141.14 571.94 L141.3 571.85 L141.46 571.77 L141.62 571.68 L141.79 571.6 L141.95 571.51 L142.11 571.43 L142.27 571.35 L142.43 571.26 L142.59 571.18 L142.75 571.09 L142.92 571.01 L143.08 570.92 L143.24 570.84 L143.4 570.75 L143.56 570.67 L143.72 570.59 L143.89 570.5 L144.05 570.42 L144.21 570.33 L144.37 570.25 L144.53 570.16 L144.69 570.08 L144.85 569.99 L145.02 569.9 L145.18 569.82 L145.34 569.73 L145.5 569.65 L145.66 569.56 L145.82 569.48 L145.99 569.39 L146.15 569.31 L146.31 569.22 L146.47 569.13 L146.63 569.05 L146.79 568.96 L146.95 568.88 L147.12 568.79 L147.28 568.7 L147.44 568.62 L147.6 568.53 L147.76 568.45 L147.92 568.36 L148.08 568.27 L148.25 568.19 L148.41 568.1 L148.57 568.01 L148.73 567.93 L148.89 567.84 L149.05 567.75 L149.22 567.67 L149.38 567.58 L149.54 567.49 L149.7 567.4 L149.86 567.32 L150.02 567.23 L150.18 567.14 L150.35 567.05 L150.51 566.97 L150.67 566.88 L150.83 566.79 L150.99 566.7 L151.15 566.62 L151.31 566.53 L151.48 566.44 L151.64 566.35 L151.8 566.26 L151.96 566.17 L152.12 566.09 L152.28 566 L152.44 565.91 L152.61 565.82 L152.77 565.73 L152.93 565.64 L153.09 565.55 L153.25 565.46 L153.41 565.37 L153.58 565.29 L153.74 565.2 L153.9 565.11 L154.06 565.02 L154.22 564.93 L154.38 564.84 L154.54 564.75 L154.71 564.66 L154.87 564.57 L155.03 564.48 L155.19 564.39 L155.35 564.3 L155.51 564.21 L155.68 564.12 L155.84 564.03 L156 563.93 L156.16 563.84 L156.32 563.75 L156.48 563.66 L156.64 563.57 L156.81 563.48 L156.97 563.39 L157.13 563.3 L157.29 563.2 L157.45 563.11 L157.61 563.02 L157.77 562.93 L157.94 562.84 L158.1 562.74 L158.26 562.65 L158.42 562.56 L158.58 562.47 L158.74 562.37 L158.91 562.28 L159.07 562.19 L159.23 562.1 L159.39 562 L159.55 561.91 L159.71 561.82 L159.87 561.72 L160.04 561.63 L160.2 561.53 L160.36 561.44 L160.52 561.35 L160.68 561.25 L160.84 561.16 L161 561.06 L161.17 560.97 L161.33 560.87 L161.49 560.78 L161.65 560.68 L161.81 560.59 L161.97 560.49 L162.13 560.4 L162.3 560.3 L162.46 560.21 L162.62 560.11 L162.78 560.02 L162.94 559.92 L163.1 559.82 L163.27 559.73 L163.43 559.63 L163.59 559.53 L163.75 559.44 L163.91 559.34 L164.07 559.24 L164.23 559.15 L164.4 559.05 L164.56 558.95 L164.72 558.85 L164.88 558.75 L165.04 558.66 L165.2 558.56 L165.37 558.46 L165.53 558.36 L165.69 558.26 L165.85 558.16 L166.01 558.06 L166.17 557.96 L166.33 557.87 L166.5 557.77 L166.66 557.67 L166.82 557.57 L166.98 557.47 L167.14 557.37 L167.3 557.27 L167.46 557.16 L167.63 557.06 L167.79 556.96 L167.95 556.86 L168.11 556.76 L168.27 556.66 L168.43 556.56 L168.59 556.45 L168.76 556.35 L168.92 556.25 L169.08 556.15 L169.24 556.05 L169.4 555.94 L169.56 555.84 L169.73 555.74 L169.89 555.63 L170.05 555.53 L170.21 555.42 L170.37 555.32 L170.53 555.22 L170.69 555.11 L170.86 555.01 L171.02 554.9 L171.18 554.8 L171.34 554.69 L171.5 554.59 L171.66 554.48 L171.82 554.37 L171.99 554.27 L172.15 554.16 L172.31 554.06 L172.47 553.95 L172.63 553.84 L172.79 553.73 L172.96 553.63 L173.12 553.52 L173.28 553.41 L173.44 553.3 L173.6 553.19 L173.76 553.09 L173.92 552.98 L174.09 552.87 L174.25 552.76 L174.41 552.65 L174.57 552.54 L174.73 552.43 L174.89 552.32 L175.06 552.21 L175.22 552.1 L175.38 551.98 L175.54 551.87 L175.7 551.76 L175.86 551.65 L176.02 551.54 L176.19 551.42 L176.35 551.31 L176.51 551.2 L176.67 551.09 L176.83 550.97 L176.99 550.86 L177.15 550.74 L177.32 550.63 L177.48 550.51 L177.64 550.4 L177.8 550.28 L177.96 550.17 L178.12 550.05 L178.28 549.94 L178.45 549.82 L178.61 549.7 L178.77 549.59 L178.93 549.47 L179.09 549.35 L179.25 549.23 L179.42 549.12 L179.58 549 L179.74 548.88 L179.9 548.76 L180.06 548.64 L180.22 548.52 L180.38 548.4 L180.55 548.28 L180.71 548.16 L180.87 548.04 L181.03 547.92 L181.19 547.79 L181.35 547.67 L181.51 547.55 L181.68 547.43 L181.84 547.3 L182 547.18 L182.16 547.06 L182.32 546.93 L182.48 546.81 L182.65 546.68 L182.81 546.56 L182.97 546.43 L183.13 546.31 L183.29 546.18 L183.45 546.05 L183.61 545.93 L183.78 545.8 L183.94 545.67 L184.1 545.54 L184.26 545.41 L184.42 545.28 L184.58 545.15 L184.75 545.02 L184.91 544.89 L185.07 544.76 L185.23 544.63 L185.39 544.5 L185.55 544.37 L185.71 544.24 L185.88 544.1 L186.04 543.97 L186.2 543.84 L186.36 543.7 L186.52 543.57 L186.68 543.43 L186.84 543.3 L187.01 543.16 L187.17 543.03 L187.33 542.89 L187.49 542.75 L187.65 542.61 L187.81 542.48 L187.97 542.34 L188.14 542.2 L188.3 542.06 L188.46 541.92 L188.62 541.78 L188.78 541.64 L188.94 541.5 L189.11 541.35 L189.27 541.21 L189.43 541.07 L189.59 540.92 L189.75 540.78 L189.91 540.64 L190.07 540.49 L190.24 540.35 L190.4 540.2 L190.56 540.05 L190.72 539.91 L190.88 539.76 L191.04 539.61 L191.2 539.46 L191.37 539.31 L191.53 539.16 L191.69 539.01 L191.85 538.86 L192.01 538.71 L192.17 538.55 L192.34 538.4 L192.5 538.25 L192.66 538.09 L192.82 537.94 L192.98 537.78 L193.14 537.63 L193.3 537.47 L193.47 537.31 L193.63 537.16 L193.79 537 L193.95 536.84 L194.11 536.68 L194.27 536.52 L194.44 536.36 L194.6 536.19 L194.76 536.03 L194.92 535.87 L195.08 535.71 L195.24 535.54 L195.4 535.38 L195.57 535.21 L195.73 535.04 L195.89 534.87 L196.05 534.71 L196.21 534.54 L196.37 534.37 L196.53 534.2 L196.7 534.03 L196.86 533.85 L197.02 533.68 L197.18 533.51 L197.34 533.33 L197.5 533.16 L197.67 532.98 L197.83 532.81 L197.99 532.63 L198.15 532.45 L198.31 532.27 L198.47 532.09 L198.63 531.91 L198.8 531.73 L198.96 531.54 L199.12 531.36 L199.28 531.18 L199.44 530.99 L199.6 530.8 L199.76 530.62 L199.93 530.43 L200.09 530.24 L200.25 530.05 L200.41 529.86 L200.57 529.67 L200.73 529.47 L200.89 529.28 L201.06 529.08 L201.22 528.89 L201.38 528.69 L201.54 528.49 L201.7 528.29 L201.86 528.09 L202.03 527.89 L202.19 527.69 L202.35 527.49 L202.51 527.28 L202.67 527.07 L202.83 526.87 L202.99 526.66 L203.16 526.45 L203.32 526.24 L203.48 526.03 L203.64 525.82 L203.8 525.6 L203.96 525.39 L204.12 525.17 L204.29 524.95 L204.45 524.73 L204.61 524.51 L204.77 524.29 L204.93 524.07 L205.09 523.84 L205.26 523.62 L205.42 523.39 L205.58 523.16 L205.74 522.93 L205.9 522.7 L206.06 522.47 L206.22 522.24 L206.39 522 L206.55 521.76 L206.71 521.52 L206.87 521.28 L207.03 521.04 L207.19 520.8 L207.36 520.56 L207.52 520.31 L207.68 520.06 L207.84 519.81 L208 519.56 L208.16 519.31 L208.32 519.05 L208.49 518.8 L208.65 518.54 L208.81 518.28 L208.97 518.02 L209.13 517.75 L209.29 517.49 L209.45 517.22 L209.62 516.95 L209.78 516.68 L209.94 516.4 L210.1 516.13 L210.26 515.85 L210.42 515.57 L210.58 515.29 L210.75 515.01 L210.91 514.72 L211.07 514.43 L211.23 514.14 L211.39 513.85 L211.55 513.56 L211.72 513.26 L211.88 512.96 L212.04 512.66 L212.2 512.35 L212.36 512.05 L212.52 511.74 L212.68 511.43 L212.85 511.11 L213.01 510.8 L213.17 510.48 L213.33 510.15 L213.49 509.83 L213.65 509.5 L213.81 509.17 L213.98 508.84 L214.14 508.5 L214.3 508.16 L214.46 507.82 L214.62 507.47 L214.78 507.13 L214.95 506.77 L215.11 506.42 L215.27 506.06 L215.43 505.7 L215.59 505.33 L215.75 504.96 L215.91 504.59 L216.08 504.22 L216.24 503.84 L216.4 503.45 L216.56 503.06 L216.72 502.67 L216.88 502.28 L217.04 501.88 L217.21 501.48 L217.37 501.07 L217.53 500.66 L217.69 500.24 L217.85 499.82 L218.01 499.39 L218.18 498.96 L218.34 498.53 L218.5 498.09 L218.66 497.64 L218.82 497.19 L218.98 496.74 L219.14 496.28 L219.31 495.81 L219.47 495.34 L219.63 494.86 L219.79 494.38 L219.95 493.89 L220.11 493.39 L220.28 492.89 L220.44 492.38 L220.6 491.87 L220.76 491.34 L220.92 490.82 L221.08 490.28 L221.24 489.74 L221.41 489.19 L221.57 488.63 L221.73 488.06 L221.89 487.49 L222.05 486.9 L222.21 486.31 L222.37 485.71 L222.54 485.1 L222.7 484.48 L222.86 483.86 L223.02 483.22 L223.18 482.57 L223.34 481.91 L223.5 481.24 L223.67 480.56 L223.83 479.87 L223.99 479.16 L224.15 478.44 L224.31 477.71 L224.47 476.97 L224.64 476.21 L224.8 475.44 L224.96 474.65 L225.12 473.85 L225.28 473.04 L225.44 472.2 L225.6 471.35 L225.77 470.48 L225.93 469.59 L226.09 468.69 L226.25 467.76 L226.41 466.81 L226.57 465.84 L226.74 464.85 L226.9 463.83 L227.06 462.78 L227.22 461.71 L227.38 460.62 L227.54 459.49 L227.7 458.33 L227.87 457.14 L228.03 455.91 L228.19 454.65 L228.35 453.35 L228.51 452.01 L228.67 450.62 L228.83 449.19 L229 447.71 L229.16 446.17 L229.32 444.58 L229.48 442.93 L229.64 441.21 L229.8 439.42 L229.97 437.55 L230.13 435.59 L230.29 433.55 L230.45 431.4 L230.61 429.14 L230.77 426.76 L230.93 424.24 L231.1 421.57 L231.26 418.72 L231.42 415.68 L231.58 412.41 L231.74 408.88 L231.9 405.04 L232.06 400.83 L232.23 396.18 L232.39 390.99 L232.55 385.11 L232.71 378.34 L232.87 370.35 L232.94 366.6" fill="none" stroke="#505050" stroke-width="1.1" stroke-dasharray="5 3.5"/>
<path d="M83 601.6 L83.32 601.45 L83.65 601.3 L83.97 601.15 L84.29 601 L84.61 600.85 L84.94 600.7 L85.26 600.55 L85.58 600.4 L85.91 600.25 L86.23 600.1 L86.55 599.95 L86.88 599.81 L87.2 599.66 L87.52 599.51 L87.84 599.36 L88.17 599.21 L88.49 599.06 L88.81 598.91 L89.14 598.77 L89.46 598.62 L89.78 598.47 L90.11 598.32 L90.43 598.17 L90.75 598.02 L91.08 597.88 L91.4 597.73 L91.72 597.58 L92.04 597.43 L92.37 597.28 L92.69 597.14 L93.01 596.99 L93.34 596.84 L93.66 596.69 L93.98 596.55 L94.31 596.4 L94.63 596.25 L94.95 596.1 L95.27 595.96 L95.6 595.81 L95.92 595.66 L96.24 595.52 L96.57 595.37 L96.89 595.22 L97.21 595.07 L97.53 594.93 L97.86 594.78 L98.18 594.63 L98.5 594.49 L98.83 594.34 L99.15 594.19 L99.47 594.05 L99.8 593.9 L100.12 593.75 L100.44 593.6 L100.77 593.46 L101.09 593.31 L101.41 593.16 L101.73 593.02 L102.06 592.87 L102.38 592.72 L102.7 592.58 L103.03 592.43 L103.35 592.28 L103.67 592.14 L104 591.99 L104.32 591.84 L104.64 591.7 L104.96 591.55 L105.29 591.4 L105.61 591.25 L105.93 591.11 L106.26 590.96 L106.58 590.81 L106.9 590.67 L107.22 590.52 L107.55 590.37 L107.87 590.22 L108.19 590.08 L108.52 589.93 L108.84 589.78 L109.16 589.63 L109.49 589.49 L109.81 589.34 L110.13 589.19 L110.45 589.04 L110.78 588.9 L111.1 588.75 L111.42 588.6 L111.75 588.45 L112.07 588.31 L112.39 588.16 L112.72 588.01 L113.04 587.86 L113.36 587.71 L113.69 587.56 L114.01 587.42 L114.33 587.27 L114.65 587.12 L114.98 586.97 L115.3 586.82 L115.62 586.67 L115.95 586.52 L116.27 586.37 L116.59 586.22 L116.91 586.07 L117.24 585.92 L117.56 585.78 L117.88 585.63 L118.21 585.48 L118.53 585.33 L118.85 585.18 L119.18 585.02 L119.5 584.87 L119.82 584.72 L120.15 584.57 L120.47 584.42 L120.79 584.27 L121.11 584.12 L121.44 583.97 L121.76 583.82 L122.08 583.67 L122.41 583.51 L122.73 583.36 L123.05 583.21 L123.38 583.06 L123.7 582.9 L124.02 582.75 L124.34 582.6 L124.67 582.45 L124.99 582.29 L125.31 582.14 L125.64 581.98 L125.96 581.83 L126.28 581.68 L126.6 581.52 L126.93 581.37 L127.25 581.21 L127.57 581.06 L127.9 580.9 L128.22 580.75 L128.54 580.59 L128.87 580.44 L129.19 580.28 L129.51 580.12 L129.84 579.97 L130.16 579.81 L130.48 579.65 L130.8 579.5 L131.13 579.34 L131.45 579.18 L131.77 579.02 L132.1 578.86 L132.42 578.7 L132.74 578.54 L133.06 578.39 L133.39 578.23 L133.71 578.07 L134.03 577.91 L134.36 577.74 L134.68 577.58 L135 577.42 L135.33 577.26 L135.65 577.1 L135.97 576.94 L136.3 576.77 L136.62 576.61 L136.94 576.45 L137.26 576.29 L137.59 576.12 L137.91 575.96 L138.23 575.79 L138.56 575.63 L138.88 575.46 L139.2 575.3 L139.53 575.13 L139.85 574.96 L140.17 574.8 L140.49 574.63 L140.82 574.46 L141.14 574.29 L141.46 574.13 L141.79 573.96 L142.11 573.79 L142.43 573.62 L142.75 573.45 L143.08 573.28 L143.4 573.11 L143.72 572.93 L144.05 572.76 L144.37 572.59 L144.69 572.42 L145.02 572.24 L145.34 572.07 L145.66 571.9 L145.99 571.72 L146.31 571.55 L146.63 571.37 L146.95 571.19 L147.28 571.02 L147.6 570.84 L147.92 570.66 L148.25 570.48 L148.57 570.31 L148.89 570.13 L149.22 569.95 L149.54 569.77 L149.86 569.58 L150.18 569.4 L150.51 569.22 L150.83 569.04 L151.15 568.86 L151.48 568.67 L151.8 568.49 L152.12 568.3 L152.44 568.12 L152.77 567.93 L153.09 567.74 L153.41 567.56 L153.74 567.37 L154.06 567.18 L154.38 566.99 L154.71 566.8 L155.03 566.61 L155.35 566.42 L155.68 566.22 L156 566.03 L156.32 565.84 L156.64 565.64 L156.97 565.45 L157.29 565.25 L157.61 565.06 L157.94 564.86 L158.26 564.66 L158.58 564.46 L158.91 564.26 L159.23 564.06 L159.55 563.86 L159.87 563.66 L160.2 563.46 L160.52 563.25 L160.84 563.05 L161.17 562.84 L161.49 562.64 L161.81 562.43 L162.13 562.22 L162.46 562.02 L162.78 561.81 L163.1 561.6 L163.43 561.38 L163.75 561.17 L164.07 560.96 L164.4 560.75 L164.72 560.53 L165.04 560.32 L165.37 560.1 L165.69 559.88 L166.01 559.66 L166.33 559.44 L166.66 559.22 L166.98 559 L167.3 558.78 L167.63 558.56 L167.95 558.33 L168.27 558.11 L168.59 557.88 L168.92 557.65 L169.24 557.42 L169.56 557.19 L169.89 556.96 L170.21 556.73 L170.53 556.5 L170.86 556.26 L171.18 556.03 L171.5 555.79 L171.82 555.55 L172.15 555.32 L172.47 555.08 L172.79 554.83 L173.12 554.59 L173.44 554.35 L173.76 554.1 L174.09 553.86 L174.41 553.61 L174.73 553.36 L175.06 553.11 L175.38 552.86 L175.7 552.61 L176.02 552.35 L176.35 552.1 L176.67 551.84 L176.99 551.58 L177.32 551.32 L177.64 551.06 L177.96 550.8 L178.28 550.53 L178.61 550.27 L178.93 550 L179.25 549.73 L179.58 549.46 L179.9 549.19 L180.22 548.92 L180.55 548.65 L180.87 548.37 L181.19 548.09 L181.51 547.81 L181.84 547.53 L182.16 547.25 L182.48 546.96 L182.81 546.68 L183.13 546.39 L183.45 546.1 L183.78 545.81 L184.1 545.52 L184.42 545.22 L184.75 544.93 L185.07 544.63 L185.39 544.33 L185.71 544.03 L186.04 543.72 L186.36 543.42 L186.68 543.11 L187.01 542.8 L187.33 542.49 L187.65 542.17 L187.97 541.86 L188.3 541.54 L188.62 541.22 L188.94 540.9 L189.27 540.58 L189.59 540.25 L189.91 539.92 L190.24 539.59 L190.56 539.26 L190.88 538.92 L191.2 538.59 L191.53 538.25 L191.85 537.9 L192.17 537.56 L192.5 537.21 L192.82 536.86 L193.14 536.51 L193.47 536.16 L193.79 535.8 L194.11 535.44 L194.44 535.08 L194.76 534.72 L195.08 534.35 L195.4 533.98 L195.73 533.61 L196.05 533.24 L196.37 532.86 L196.7 532.48 L197.02 532.1 L197.34 531.71 L197.67 531.32 L197.99 530.93 L198.31 530.54 L198.63 530.14 L198.96 529.74 L199.28 529.34 L199.6 528.93 L199.93 528.52 L200.25 528.11 L200.57 527.69 L200.89 527.27 L201.22 526.85 L201.54 526.42 L201.86 525.99 L202.19 525.56 L202.51 525.12 L202.83 524.68 L203.16 524.24 L203.48 523.79 L203.8 523.34 L204.12 522.89 L204.45 522.43 L204.77 521.97 L205.09 521.5 L205.42 521.03 L205.74 520.56 L206.06 520.08 L206.39 519.6 L206.71 519.11 L207.03 518.62 L207.36 518.12 L207.68 517.63 L208 517.12 L208.32 516.61 L208.65 516.1 L208.97 515.58 L209.29 515.06 L209.62 514.54 L209.94 514.01 L210.26 513.47 L210.58 512.93 L210.91 512.38 L211.23 511.83 L211.55 511.28 L211.88 510.72 L212.2 510.15 L212.52 509.58 L212.85 509 L213.17 508.42 L213.49 507.83 L213.81 507.23 L214.14 506.63 L214.46 506.03 L214.78 505.42 L215.11 504.8 L215.43 504.17 L215.75 503.54 L216.08 502.91 L216.4 502.26 L216.72 501.61 L217.04 500.96 L217.37 500.29 L217.69 499.62 L218.01 498.95 L218.34 498.26 L218.66 497.57 L218.98 496.87 L219.31 496.16 L219.63 495.45 L219.95 494.73 L220.28 494 L220.6 493.26 L220.92 492.51 L221.24 491.76 L221.57 491 L221.89 490.22 L222.21 489.44 L222.54 488.65 L222.86 487.85 L223.18 487.05 L223.5 486.23 L223.77 485.55" fill="none" stroke="#000" stroke-width="2.4" stroke-linejoin="round" stroke-linecap="round"/>
<path d="M83 601.6 L83.32 601.47 L83.65 601.33 L83.97 601.2 L84.29 601.07 L84.61 600.94 L84.94 600.8 L85.26 600.67 L85.58 600.54 L85.91 600.41 L86.23 600.27 L86.55 600.14 L86.88 600.01 L87.2 599.88 L87.52 599.74 L87.84 599.61 L88.17 599.48 L88.49 599.35 L88.81 599.21 L89.14 599.08 L89.46 598.95 L89.78 598.82 L90.11 598.69 L90.43 598.56 L90.75 598.42 L91.08 598.29 L91.4 598.16 L91.72 598.03 L92.04 597.9 L92.37 597.76 L92.69 597.63 L93.01 597.5 L93.34 597.37 L93.66 597.24 L93.98 597.11 L94.31 596.98 L94.63 596.84 L94.95 596.71 L95.27 596.58 L95.6 596.45 L95.92 596.32 L96.24 596.19 L96.57 596.06 L96.89 595.93 L97.21 595.79 L97.53 595.66 L97.86 595.53 L98.18 595.4 L98.5 595.27 L98.83 595.14 L99.15 595.01 L99.47 594.88 L99.8 594.75 L100.12 594.62 L100.44 594.48 L100.77 594.35 L101.09 594.22 L101.41 594.09 L101.73 593.96 L102.06 593.83 L102.38 593.7 L102.7 593.57 L103.03 593.44 L103.35 593.31 L103.67 593.18 L104 593.04 L104.32 592.91 L104.64 592.78 L104.96 592.65 L105.29 592.52 L105.61 592.39 L105.93 592.26 L106.26 592.13 L106.58 592 L106.9 591.87 L107.22 591.74 L107.55 591.61 L107.87 591.48 L108.19 591.34 L108.52 591.21 L108.84 591.08 L109.16 590.95 L109.49 590.82 L109.81 590.69 L110.13 590.56 L110.45 590.43 L110.78 590.3 L111.1 590.17 L111.42 590.04 L111.75 589.91 L112.07 589.77 L112.39 589.64 L112.72 589.51 L113.04 589.38 L113.36 589.25 L113.69 589.12 L114.01 588.99 L114.33 588.86 L114.65 588.73 L114.98 588.6 L115.3 588.46 L115.62 588.33 L115.95 588.2 L116.27 588.07 L116.59 587.94 L116.91 587.81 L117.24 587.68 L117.56 587.55 L117.88 587.42 L118.21 587.28 L118.53 587.15 L118.85 587.02 L119.18 586.89 L119.5 586.76 L119.82 586.63 L120.15 586.49 L120.47 586.36 L120.79 586.23 L121.11 586.1 L121.44 585.97 L121.76 585.84 L122.08 585.7 L122.41 585.57 L122.73 585.44 L123.05 585.31 L123.38 585.18 L123.7 585.04 L124.02 584.91 L124.34 584.78 L124.67 584.65 L124.99 584.51 L125.31 584.38 L125.64 584.25 L125.96 584.12 L126.28 583.98 L126.6 583.85 L126.93 583.72 L127.25 583.59 L127.57 583.45 L127.9 583.32 L128.22 583.19 L128.54 583.05 L128.87 582.92 L129.19 582.79 L129.51 582.66 L129.84 582.52 L130.16 582.39 L130.48 582.26 L130.8 582.12 L131.13 581.99 L131.45 581.85 L131.77 581.72 L132.1 581.59 L132.42 581.45 L132.74 581.32 L133.06 581.18 L133.39 581.05 L133.71 580.92 L134.03 580.78 L134.36 580.65 L134.68 580.51 L135 580.38 L135.33 580.24 L135.65 580.11 L135.97 579.97 L136.3 579.84 L136.62 579.7 L136.94 579.57 L137.26 579.43 L137.59 579.3 L137.91 579.16 L138.23 579.02 L138.56 578.89 L138.88 578.75 L139.2 578.62 L139.53 578.48 L139.85 578.34 L140.17 578.21 L140.49 578.07 L140.82 577.93 L141.14 577.8 L141.46 577.66 L141.79 577.52 L142.11 577.39 L142.43 577.25 L142.75 577.11 L143.08 576.97 L143.4 576.83 L143.72 576.7 L144.05 576.56 L144.37 576.42 L144.69 576.28 L145.02 576.14 L145.34 576.01 L145.66 575.87 L145.99 575.73 L146.31 575.59 L146.63 575.45 L146.95 575.31 L147.28 575.17 L147.6 575.03 L147.92 574.89 L148.25 574.75 L148.57 574.61 L148.89 574.47 L149.22 574.33 L149.54 574.19 L149.86 574.05 L150.18 573.91 L150.51 573.77 L150.83 573.63 L151.15 573.48 L151.48 573.34 L151.8 573.2 L152.12 573.06 L152.44 572.92 L152.77 572.78 L153.09 572.63 L153.41 572.49 L153.74 572.35 L154.06 572.2 L154.38 572.06 L154.71 571.92 L155.03 571.77 L155.35 571.63 L155.68 571.49 L156 571.34 L156.32 571.2 L156.64 571.05 L156.97 570.91 L157.29 570.76 L157.61 570.62 L157.94 570.47 L158.26 570.33 L158.58 570.18 L158.91 570.03 L159.23 569.89 L159.55 569.74 L159.87 569.59 L160.2 569.45 L160.52 569.3 L160.84 569.15 L161.17 569.01 L161.49 568.86 L161.81 568.71 L162.13 568.56 L162.46 568.41 L162.78 568.26 L163.1 568.11 L163.43 567.96 L163.75 567.82 L164.07 567.67 L164.4 567.52 L164.72 567.37 L165.04 567.21 L165.37 567.06 L165.69 566.91 L166.01 566.76 L166.33 566.61 L166.66 566.46 L166.98 566.31 L167.3 566.15 L167.63 566 L167.95 565.85 L168.27 565.69 L168.59 565.54 L168.92 565.39 L169.24 565.23 L169.56 565.08 L169.89 564.92 L170.21 564.77 L170.53 564.61 L170.86 564.46 L171.18 564.3 L171.5 564.15 L171.82 563.99 L172.15 563.83 L172.47 563.68 L172.79 563.52 L173.12 563.36 L173.44 563.2 L173.76 563.04 L174.09 562.89 L174.41 562.73 L174.73 562.57 L175.06 562.41 L175.38 562.25 L175.7 562.09 L176.02 561.93 L176.35 561.77 L176.67 561.6 L176.99 561.44 L177.32 561.28 L177.64 561.12 L177.96 560.96 L178.28 560.79 L178.61 560.63 L178.93 560.47 L179.25 560.3 L179.58 560.14 L179.9 559.97 L180.22 559.81 L180.55 559.64 L180.87 559.48 L181.19 559.31 L181.51 559.14 L181.84 558.98 L182.16 558.81 L182.48 558.64 L182.81 558.47 L183.13 558.3 L183.45 558.13 L183.78 557.96 L184.1 557.8 L184.42 557.62 L184.75 557.45 L185.07 557.28 L185.39 557.11 L185.71 556.94 L186.04 556.77 L186.36 556.59 L186.68 556.42 L187.01 556.25 L187.33 556.07 L187.65 555.9 L187.97 555.72 L188.3 555.55 L188.62 555.37 L188.94 555.2 L189.27 555.02 L189.59 554.84 L189.91 554.66 L190.24 554.49 L190.56 554.31 L190.88 554.13 L191.2 553.95 L191.53 553.77 L191.85 553.59 L192.17 553.41 L192.5 553.23 L192.82 553.04 L193.14 552.86 L193.47 552.68 L193.79 552.5 L194.11 552.31 L194.44 552.13 L194.76 551.94 L195.08 551.76 L195.4 551.57 L195.73 551.38 L196.05 551.2 L196.37 551.01 L196.7 550.82 L197.02 550.63 L197.34 550.44 L197.67 550.25 L197.99 550.06 L198.31 549.87 L198.63 549.68 L198.96 549.49 L199.28 549.29 L199.6 549.1 L199.93 548.91 L200.25 548.71 L200.57 548.52 L200.89 548.32 L201.22 548.13 L201.54 547.93 L201.86 547.73 L202.19 547.53 L202.51 547.34 L202.83 547.14 L203.16 546.94 L203.48 546.74 L203.8 546.54 L204.12 546.33 L204.45 546.13 L204.77 545.93 L205.09 545.73 L205.42 545.52 L205.74 545.32 L206.06 545.11 L206.39 544.9 L206.71 544.7 L207.03 544.49 L207.36 544.28 L207.68 544.07 L208 543.86 L208.32 543.65 L208.65 543.44 L208.97 543.23 L209.29 543.02 L209.62 542.8 L209.94 542.59 L210.26 542.38 L210.58 542.16 L210.91 541.94 L211.23 541.73 L211.55 541.51 L211.88 541.29 L212.2 541.07 L212.52 540.85 L212.85 540.63 L213.17 540.41 L213.49 540.19 L213.81 539.96 L214.14 539.74 L214.46 539.52 L214.78 539.29 L215.11 539.06 L215.43 538.84 L215.75 538.61 L216.08 538.38 L216.4 538.15 L216.72 537.92 L217.04 537.69 L217.37 537.46 L217.69 537.23 L218.01 536.99 L218.34 536.76 L218.66 536.52 L218.98 536.29 L219.31 536.05 L219.63 535.81 L219.95 535.57 L220.28 535.33 L220.6 535.09 L220.92 534.85 L221.24 534.61 L221.57 534.36 L221.89 534.12 L222.21 533.87 L222.54 533.63 L222.86 533.38 L223.18 533.13 L223.5 532.88 L223.83 532.63 L224.15 532.38 L224.47 532.13 L224.8 531.87 L225.12 531.62 L225.44 531.36 L225.77 531.11 L226.09 530.85 L226.41 530.59 L226.74 530.33 L227.06 530.07 L227.38 529.81 L227.7 529.55 L228.03 529.28 L228.35 529.02 L228.67 528.75 L229 528.49 L229.32 528.22 L229.64 527.95 L229.97 527.68 L230.29 527.41 L230.61 527.13 L230.93 526.86 L231.26 526.59 L231.58 526.31 L231.9 526.03 L232.23 525.75 L232.55 525.47 L232.87 525.19 L233.19 524.91 L233.52 524.63 L233.84 524.34 L234.16 524.06 L234.49 523.77 L234.81 523.48 L235.13 523.19 L235.46 522.9 L235.78 522.61 L236.1 522.31 L236.43 522.02 L236.75 521.72 L237.07 521.43 L237.39 521.13 L237.72 520.83 L238.04 520.53 L238.36 520.22 L238.69 519.92 L239.01 519.61 L239.33 519.31 L239.66 519 L239.98 518.69 L240.3 518.38 L240.62 518.06 L240.95 517.75 L241.27 517.43 L241.59 517.12 L241.92 516.8 L242.24 516.48 L242.56 516.15 L242.88 515.83 L243.21 515.51 L243.53 515.18 L243.85 514.85 L244.18 514.52 L244.5 514.19 L244.82 513.86 L245.15 513.52 L245.47 513.19 L245.79 512.85 L246.12 512.51 L246.44 512.17 L246.76 511.83 L247.08 511.48 L247.41 511.14 L247.73 510.79 L248.05 510.44 L248.38 510.09 L248.7 509.74 L249.02 509.38 L249.34 509.02 L249.67 508.67 L249.99 508.3 L250.31 507.94 L250.64 507.58 L250.96 507.21 L251.28 506.85 L251.61 506.48 L251.93 506.1 L252.25 505.73 L252.57 505.35 L252.9 504.98 L253.22 504.6 L253.54 504.22 L253.87 503.83 L254.19 503.45 L254.51 503.06 L254.84 502.67 L255.16 502.28 L255.48 501.88 L255.81 501.49 L256.13 501.09 L256.45 500.69 L256.77 500.29 L257.1 499.88 L257.42 499.48 L257.74 499.07 L258.07 498.66 L258.39 498.24 L258.71 497.83 L259.03 497.41 L259.36 496.99 L259.68 496.56 L260 496.14 L260.33 495.71 L260.65 495.28 L260.97 494.85 L261.3 494.41 L261.62 493.98 L261.94 493.53 L262.26 493.09 L262.59 492.65 L262.91 492.2 L263.23 491.75 L263.56 491.3 L263.88 490.84 L264.2 490.38 L264.53 489.92 L264.85 489.46 L265.17 488.99 L265.5 488.52 L265.82 488.05 L266.14 487.57 L266.46 487.1 L266.79 486.61 L267.11 486.13 L267.43 485.64 L267.5 485.55" fill="none" stroke="#b3202a" stroke-width="2.3" stroke-linejoin="round" stroke-linecap="round"/>
</g>
<rect x="83" y="369.5" width="323" height="232.1" fill="none" stroke="#404040" stroke-width="1.1"/>
<text x="83" y="622.6" font-size="15.3" fill="#262626" text-anchor="middle">0</text>
<line x1="147.6" y1="369.5" x2="147.6" y2="372.8" stroke="#404040" stroke-width="1.1"/>
<line x1="147.6" y1="598.3" x2="147.6" y2="601.6" stroke="#404040" stroke-width="1.1"/>
<text x="147.6" y="622.6" font-size="15.3" fill="#262626" text-anchor="middle">100</text>
<line x1="212.2" y1="369.5" x2="212.2" y2="372.8" stroke="#404040" stroke-width="1.1"/>
<line x1="212.2" y1="598.3" x2="212.2" y2="601.6" stroke="#404040" stroke-width="1.1"/>
<text x="212.2" y="622.6" font-size="15.3" fill="#262626" text-anchor="middle">200</text>
<line x1="276.8" y1="369.5" x2="276.8" y2="372.8" stroke="#404040" stroke-width="1.1"/>
<line x1="276.8" y1="598.3" x2="276.8" y2="601.6" stroke="#404040" stroke-width="1.1"/>
<text x="276.8" y="622.6" font-size="15.3" fill="#262626" text-anchor="middle">300</text>
<line x1="341.4" y1="369.5" x2="341.4" y2="372.8" stroke="#404040" stroke-width="1.1"/>
<line x1="341.4" y1="598.3" x2="341.4" y2="601.6" stroke="#404040" stroke-width="1.1"/>
<text x="341.4" y="622.6" font-size="15.3" fill="#262626" text-anchor="middle">400</text>
<text x="406" y="622.6" font-size="15.3" fill="#262626" text-anchor="middle">500</text>
<text x="77.4" y="606.8" font-size="15.3" fill="#262626" text-anchor="end">0</text>
<line x1="83" y1="543.58" x2="86.3" y2="543.58" stroke="#404040" stroke-width="1.1"/>
<line x1="402.7" y1="543.58" x2="406" y2="543.58" stroke="#404040" stroke-width="1.1"/>
<text x="77.4" y="548.78" font-size="15.3" fill="#262626" text-anchor="end">0.2</text>
<line x1="83" y1="485.55" x2="86.3" y2="485.55" stroke="#404040" stroke-width="1.1"/>
<line x1="402.7" y1="485.55" x2="406" y2="485.55" stroke="#404040" stroke-width="1.1"/>
<text x="77.4" y="490.75" font-size="15.3" fill="#262626" text-anchor="end">0.4</text>
<line x1="83" y1="427.52" x2="86.3" y2="427.52" stroke="#404040" stroke-width="1.1"/>
<line x1="402.7" y1="427.52" x2="406" y2="427.52" stroke="#404040" stroke-width="1.1"/>
<text x="77.4" y="432.72" font-size="15.3" fill="#262626" text-anchor="end">0.6</text>
<text x="77.4" y="374.7" font-size="15.3" fill="#262626" text-anchor="end">0.8</text>
<text x="149.3" y="648.6" font-size="16.7" fill="#262626">Current Density (mA/cm<tspan font-size="11.2" dy="-7.8">2</tspan><tspan dy="7.8">)</tspan></text>
<text transform="translate(42.4 483.2) rotate(-90)" font-size="16.9" fill="#262626" text-anchor="middle">IR-Free Voltage (V<tspan font-size="12.6" dy="7.8">IR-free</tspan><tspan dy="-7.8">)</tspan></text>
<rect x="301.6" y="377.3" width="96.7" height="36.8" fill="#fff" stroke="#404040" stroke-width="1.1"/>
<line x1="304.3" y1="387.2" x2="334.7" y2="387.2" stroke="#505050" stroke-width="1.1" stroke-dasharray="5 3.5"/>
<line x1="304.3" y1="404.7" x2="334.7" y2="404.7" stroke="#d98080" stroke-width="1.1" stroke-dasharray="5 3.5"/>
<text x="337.4" y="392.4" font-size="13.2" fill="#000">Pristine</text>
<text x="337.4" y="409.6" font-size="13.2" fill="#000">Patterned</text>
<line x1="579.2" y1="371" x2="579.2" y2="603.75" stroke="#e2e2e2" stroke-width="1"/>
<line x1="637.4" y1="371" x2="637.4" y2="603.75" stroke="#e2e2e2" stroke-width="1"/>
<line x1="695.6" y1="371" x2="695.6" y2="603.75" stroke="#e2e2e2" stroke-width="1"/>
<line x1="753.8" y1="371" x2="753.8" y2="603.75" stroke="#e2e2e2" stroke-width="1"/>
<line x1="812" y1="371" x2="812" y2="603.75" stroke="#e2e2e2" stroke-width="1"/>
<line x1="521" y1="545.56" x2="840.8" y2="545.56" stroke="#e2e2e2" stroke-width="1"/>
<line x1="521" y1="487.38" x2="840.8" y2="487.38" stroke="#e2e2e2" stroke-width="1"/>
<line x1="521" y1="429.19" x2="840.8" y2="429.19" stroke="#e2e2e2" stroke-width="1"/>
<g clip-path="url(#dclip)">
<path d="M567.5 603.2 L567.65 602.9 L567.84 602.52 L568.06 602.06 L568.31 601.55 L568.58 601.01 L568.87 600.44 L569.16 599.87 L569.45 599.31 L569.73 598.78 L570 598.3 L570.26 597.85 L570.51 597.42 L570.77 596.99 L571.03 596.57 L571.29 596.16 L571.55 595.76 L571.82 595.36 L572.11 594.97 L572.4 594.58 L572.7 594.2 L573.01 593.83 L573.33 593.47 L573.65 593.12 L573.98 592.79 L574.32 592.45 L574.67 592.11 L575.03 591.78 L575.4 591.43 L575.79 591.07 L576.2 590.7 L576.62 590.31 L577.06 589.9 L577.52 589.48 L577.99 589.06 L578.47 588.63 L578.96 588.2 L579.46 587.78 L579.97 587.37 L580.48 586.97 L581 586.6 L581.52 586.25 L582.05 585.92 L582.58 585.61 L583.12 585.31 L583.67 585.01 L584.23 584.72 L584.8 584.43 L585.38 584.13 L585.98 583.82 L586.6 583.5 L587.24 583.17 L587.9 582.82 L588.57 582.48 L589.27 582.12 L589.97 581.77 L590.68 581.41 L591.39 581.06 L592.1 580.7 L592.8 580.35 L593.5 580 L594.19 579.65 L594.88 579.31 L595.57 578.96 L596.26 578.62 L596.95 578.28 L597.64 577.93 L598.33 577.59 L599.02 577.26 L599.71 576.93 L600.4 576.6 L601.07 576.29 L601.7 575.99 L602.32 575.7 L602.92 575.42 L603.54 575.13 L604.19 574.84 L604.87 574.54 L605.61 574.22 L606.41 573.87 L607.3 573.5 L608.26 573.1 L609.26 572.7 L610.31 572.28 L611.4 571.84 L612.55 571.39 L613.75 570.92 L615 570.42 L616.31 569.91 L617.68 569.37 L619.1 568.8 L620.63 568.19 L622.28 567.52 L624.03 566.82 L625.85 566.09 L627.7 565.34 L629.55 564.6 L631.38 563.87 L633.15 563.17 L634.84 562.51 L636.4 561.9 L637.81 561.34 L639.09 560.82 L640.28 560.33 L641.4 559.87 L642.5 559.42 L643.62 558.99 L644.79 558.56 L646.05 558.14 L647.44 557.73 L649 557.3 L650.75 556.87 L652.67 556.44 L654.73 556.02 L656.87 555.6 L659.07 555.19 L661.28 554.78 L663.47 554.39 L665.59 554.01 L667.62 553.65 L669.5 553.3 L671.25 552.97 L672.93 552.65 L674.53 552.34 L676.08 552.05 L677.59 551.77 L679.08 551.5 L680.54 551.24 L682.01 550.98 L683.49 550.74 L685 550.5 L686.52 550.27 L688.05 550.05 L689.57 549.84 L691.08 549.64 L692.59 549.45 L694.1 549.27 L695.59 549.09 L697.07 548.92 L698.54 548.76 L700 548.6 L701.47 548.45 L702.96 548.3 L704.46 548.15 L705.96 548.02 L707.44 547.89 L708.88 547.77 L710.27 547.66 L711.6 547.56 L712.85 547.47 L714 547.4 L715.02 547.34 L715.92 547.29 L716.71 547.24 L717.44 547.21 L718.12 547.19 L718.8 547.18 L719.5 547.19 L720.24 547.21 L721.06 547.24 L722 547.3 L723.03 547.37 L724.11 547.45 L725.25 547.53 L726.42 547.64 L727.63 547.76 L728.87 547.9 L730.13 548.06 L731.41 548.24 L732.71 548.46 L734 548.7 L735.34 548.98 L736.74 549.29 L738.19 549.64 L739.66 550 L741.14 550.39 L742.61 550.8 L744.04 551.22 L745.41 551.64 L746.7 552.07 L747.9 552.5 L749 552.93 L750.03 553.38 L751 553.84 L751.92 554.32 L752.79 554.79 L753.62 555.28 L754.43 555.76 L755.23 556.25 L756.01 556.73 L756.8 557.2 L757.57 557.67 L758.32 558.12 L759.03 558.58 L759.73 559.03 L760.41 559.48 L761.07 559.94 L761.73 560.41 L762.38 560.89 L763.04 561.39 L763.7 561.9 L764.37 562.44 L765.04 563 L765.72 563.57 L766.39 564.16 L767.06 564.76 L767.71 565.36 L768.34 565.96 L768.96 566.55 L769.54 567.14 L770.1 567.7 L770.62 568.25 L771.12 568.8 L771.59 569.33 L772.03 569.87 L772.46 570.39 L772.88 570.92 L773.29 571.44 L773.69 571.96 L774.09 572.48 L774.5 573 L774.91 573.52 L775.32 574.04 L775.73 574.57 L776.13 575.09 L776.52 575.61 L776.9 576.12 L777.27 576.63 L777.63 577.13 L777.98 577.62 L778.3 578.1 L778.6 578.57 L778.89 579.02 L779.15 579.47 L779.41 579.91 L779.65 580.34 L779.88 580.77 L780.11 581.19 L780.34 581.62 L780.57 582.06 L780.8 582.5 L781.03 582.95 L781.27 583.4 L781.5 583.85 L781.73 584.3 L781.96 584.75 L782.18 585.2 L782.39 585.65 L782.6 586.1 L782.81 586.55 L783 587 L783.19 587.44 L783.36 587.89 L783.53 588.33 L783.7 588.77 L783.86 589.21 L784.01 589.64 L784.16 590.08 L784.31 590.52 L784.45 590.96 L784.6 591.4 L784.75 591.84 L784.89 592.29 L785.03 592.74 L785.18 593.19 L785.31 593.64 L785.44 594.09 L785.57 594.53 L785.69 594.96 L785.8 595.39 L785.9 595.8 L785.99 596.21 L786.07 596.64 L786.15 597.08 L786.22 597.51 L786.28 597.92 L786.34 598.32 L786.39 598.68 L786.43 599.01 L786.47 599.28 L786.5 599.5" fill="none" stroke="#dc5050" stroke-width="1.3" stroke-linejoin="round"/>
<g fill="#b41c1c"><circle cx="567.5" cy="603.2" r="1.15"/><circle cx="569.66" cy="598.91" r="1.15"/><circle cx="572.2" cy="594.84" r="1.15"/><circle cx="575.48" cy="591.36" r="1.15"/><circle cx="579.04" cy="588.13" r="1.15"/><circle cx="582.97" cy="585.39" r="1.15"/><circle cx="587.22" cy="583.17" r="1.15"/><circle cx="591.5" cy="581" r="1.15"/><circle cx="595.8" cy="578.85" r="1.15"/><circle cx="600.11" cy="576.74" r="1.15"/><circle cx="606.94" cy="573.65" r="1.15"/><circle cx="613.9" cy="570.86" r="1.15"/><circle cx="620.87" cy="568.09" r="1.15"/><circle cx="627.83" cy="565.29" r="1.15"/><circle cx="634.8" cy="562.52" r="1.15"/><circle cx="641.76" cy="559.72" r="1.15"/><circle cx="648.86" cy="557.34" r="1.15"/><circle cx="656.19" cy="555.73" r="1.15"/><circle cx="663.56" cy="554.38" r="1.15"/><circle cx="670.94" cy="553.03" r="1.15"/><circle cx="678.31" cy="551.64" r="1.15"/><circle cx="685.71" cy="550.39" r="1.15"/><circle cx="693.14" cy="549.38" r="1.15"/><circle cx="701.09" cy="548.49" r="1.15"/><circle cx="709.05" cy="547.75" r="1.15"/><circle cx="717.04" cy="547.23" r="1.15"/><circle cx="725.02" cy="547.52" r="1.15"/><circle cx="732.96" cy="548.5" r="1.15"/><circle cx="740.76" cy="550.29" r="1.15"/><circle cx="748.38" cy="552.69" r="1.15"/><circle cx="755.46" cy="556.39" r="1.15"/><circle cx="762.17" cy="560.74" r="1.15"/><circle cx="768.28" cy="565.9" r="1.15"/><circle cx="771.87" cy="569.65" r="1.15"/><circle cx="775.08" cy="573.74" r="1.15"/><circle cx="778.18" cy="577.92" r="1.15"/><circle cx="780.76" cy="582.43" r="1.15"/><circle cx="783.04" cy="587.1" r="1.15"/><circle cx="784.79" cy="592" r="1.15"/><circle cx="786.14" cy="597.01" r="1.15"/></g>
<path d="M559.6 603.2 L559.76 602.86 L559.97 602.43 L560.22 601.91 L560.49 601.32 L560.79 600.7 L561.1 600.05 L561.43 599.4 L561.76 598.76 L562.08 598.15 L562.4 597.6 L562.72 597.08 L563.04 596.56 L563.37 596.05 L563.71 595.55 L564.06 595.05 L564.4 594.57 L564.75 594.1 L565.1 593.64 L565.45 593.21 L565.8 592.8 L566.15 592.41 L566.5 592.04 L566.85 591.68 L567.2 591.35 L567.55 591.02 L567.9 590.72 L568.25 590.42 L568.6 590.14 L568.95 589.86 L569.3 589.6 L569.64 589.35 L569.98 589.12 L570.32 588.9 L570.66 588.7 L571 588.51 L571.34 588.32 L571.68 588.14 L572.02 587.96 L572.36 587.78 L572.7 587.6 L573.05 587.42 L573.4 587.24 L573.75 587.06 L574.1 586.89 L574.45 586.73 L574.8 586.56 L575.15 586.39 L575.5 586.23 L575.85 586.06 L576.2 585.9 L576.54 585.74 L576.88 585.58 L577.22 585.42 L577.56 585.26 L577.9 585.1 L578.24 584.94 L578.58 584.78 L578.92 584.62 L579.26 584.46 L579.6 584.3 L579.95 584.13 L580.29 583.96 L580.64 583.79 L580.99 583.62 L581.34 583.44 L581.7 583.27 L582.05 583.1 L582.4 582.93 L582.75 582.76 L583.1 582.6 L583.45 582.44 L583.8 582.29 L584.15 582.14 L584.5 581.99 L584.86 581.84 L585.21 581.69 L585.56 581.54 L585.91 581.4 L586.25 581.25 L586.6 581.1 L586.94 580.95 L587.28 580.8 L587.62 580.66 L587.96 580.51 L588.3 580.37 L588.64 580.22 L588.98 580.07 L589.32 579.92 L589.66 579.76 L590 579.6 L590.34 579.43 L590.68 579.26 L591.02 579.09 L591.36 578.91 L591.71 578.73 L592.05 578.55 L592.4 578.36 L592.76 578.18 L593.13 577.99 L593.5 577.8 L593.89 577.61 L594.28 577.41 L594.68 577.21 L595.09 577.01 L595.51 576.81 L595.92 576.6 L596.34 576.4 L596.76 576.2 L597.18 576 L597.6 575.8 L597.99 575.62 L598.33 575.46 L598.66 575.32 L598.98 575.19 L599.31 575.04 L599.67 574.89 L600.08 574.7 L600.56 574.48 L601.13 574.22 L601.8 573.9 L602.58 573.52 L603.47 573.09 L604.43 572.61 L605.46 572.1 L606.54 571.56 L607.66 571 L608.8 570.44 L609.95 569.88 L611.09 569.33 L612.2 568.8 L613.29 568.28 L614.39 567.77 L615.49 567.25 L616.61 566.73 L617.73 566.21 L618.87 565.68 L620.04 565.16 L621.23 564.64 L622.45 564.12 L623.7 563.6 L625 563.07 L626.33 562.54 L627.71 562 L629.11 561.46 L630.53 560.92 L631.96 560.39 L633.39 559.86 L634.81 559.36 L636.22 558.87 L637.6 558.4 L638.94 557.96 L640.23 557.53 L641.5 557.12 L642.75 556.73 L644.01 556.34 L645.3 555.97 L646.62 555.6 L648 555.23 L649.46 554.87 L651 554.5 L652.66 554.13 L654.42 553.75 L656.27 553.38 L658.18 553.01 L660.12 552.64 L662.07 552.29 L664.01 551.94 L665.91 551.61 L667.75 551.3 L669.5 551 L671.17 550.72 L672.8 550.47 L674.39 550.23 L675.94 550 L677.47 549.78 L678.98 549.57 L680.48 549.37 L681.98 549.18 L683.48 548.99 L685 548.8 L686.53 548.61 L688.06 548.43 L689.6 548.25 L691.13 548.07 L692.66 547.91 L694.17 547.75 L695.66 547.59 L697.14 547.45 L698.58 547.32 L700 547.2 L701.38 547.09 L702.72 546.99 L704.04 546.9 L705.33 546.83 L706.61 546.76 L707.87 546.69 L709.14 546.64 L710.41 546.59 L711.7 546.54 L713 546.5 L714.34 546.46 L715.71 546.42 L717.11 546.38 L718.52 546.35 L719.92 546.33 L721.3 546.32 L722.64 546.32 L723.93 546.33 L725.15 546.35 L726.3 546.4 L727.35 546.46 L728.33 546.54 L729.24 546.63 L730.09 546.73 L730.91 546.84 L731.71 546.97 L732.51 547.11 L733.31 547.26 L734.13 547.43 L735 547.6 L735.89 547.79 L736.78 548 L737.67 548.22 L738.56 548.45 L739.46 548.69 L740.37 548.95 L741.28 549.21 L742.21 549.47 L743.15 549.73 L744.1 550 L745.07 550.27 L746.08 550.53 L747.09 550.8 L748.13 551.08 L749.16 551.36 L750.2 551.64 L751.23 551.94 L752.24 552.25 L753.23 552.57 L754.2 552.9 L755.14 553.24 L756.08 553.6 L757 553.96 L757.91 554.33 L758.81 554.71 L759.69 555.11 L760.56 555.51 L761.42 555.93 L762.27 556.36 L763.1 556.8 L763.92 557.26 L764.72 557.74 L765.52 558.23 L766.3 558.74 L767.06 559.26 L767.82 559.78 L768.56 560.31 L769.28 560.84 L770 561.37 L770.7 561.9 L771.39 562.43 L772.06 562.96 L772.72 563.49 L773.37 564.03 L774.01 564.57 L774.63 565.12 L775.24 565.66 L775.84 566.21 L776.42 566.75 L777 567.3 L777.56 567.85 L778.12 568.4 L778.66 568.95 L779.19 569.5 L779.71 570.06 L780.21 570.61 L780.7 571.16 L781.18 571.71 L781.65 572.26 L782.1 572.8 L782.54 573.34 L782.96 573.89 L783.38 574.43 L783.78 574.98 L784.16 575.52 L784.54 576.05 L784.9 576.58 L785.24 577.1 L785.58 577.61 L785.9 578.1 L786.21 578.58 L786.49 579.05 L786.76 579.51 L787.02 579.95 L787.27 580.39 L787.51 580.83 L787.74 581.25 L787.96 581.67 L788.18 582.09 L788.4 582.5 L788.62 582.9 L788.82 583.29 L789.02 583.66 L789.21 584.03 L789.4 584.39 L789.58 584.76 L789.76 585.13 L789.94 585.5 L790.12 585.89 L790.3 586.3 L790.48 586.72 L790.66 587.15 L790.83 587.58 L791 588.03 L791.17 588.47 L791.34 588.93 L791.51 589.39 L791.68 589.86 L791.84 590.33 L792 590.8 L792.16 591.29 L792.33 591.79 L792.49 592.3 L792.66 592.83 L792.82 593.35 L792.97 593.87 L793.12 594.38 L793.26 594.88 L793.39 595.35 L793.5 595.8 L793.6 596.24 L793.69 596.68 L793.77 597.12 L793.83 597.55 L793.89 597.96 L793.95 598.35 L793.99 598.7 L794.03 599.02 L794.07 599.29 L794.1 599.5" fill="none" stroke="#dc5050" stroke-width="1.3" stroke-linejoin="round"/>
<g fill="#b41c1c"><circle cx="559.6" cy="603.2" r="1.15"/><circle cx="561.69" cy="598.88" r="1.15"/><circle cx="564.23" cy="594.81" r="1.15"/><circle cx="567.37" cy="591.19" r="1.15"/><circle cx="571.24" cy="588.37" r="1.15"/><circle cx="575.53" cy="586.22" r="1.15"/><circle cx="579.87" cy="584.17" r="1.15"/><circle cx="584.2" cy="582.11" r="1.15"/><circle cx="588.62" cy="580.23" r="1.15"/><circle cx="592.92" cy="578.1" r="1.15"/><circle cx="597.22" cy="575.98" r="1.15"/><circle cx="604.02" cy="572.81" r="1.15"/><circle cx="610.75" cy="569.49" r="1.15"/><circle cx="617.53" cy="566.3" r="1.15"/><circle cx="624.41" cy="563.31" r="1.15"/><circle cx="631.4" cy="560.59" r="1.15"/><circle cx="638.48" cy="558.11" r="1.15"/><circle cx="645.64" cy="555.87" r="1.15"/><circle cx="652.92" cy="554.07" r="1.15"/><circle cx="660.27" cy="552.62" r="1.15"/><circle cx="667.66" cy="551.31" r="1.15"/><circle cx="675.06" cy="550.13" r="1.15"/><circle cx="682.49" cy="549.12" r="1.15"/><circle cx="689.94" cy="548.21" r="1.15"/><circle cx="697.4" cy="547.43" r="1.15"/><circle cx="705.38" cy="546.82" r="1.15"/><circle cx="713.37" cy="546.49" r="1.15"/><circle cx="721.37" cy="546.32" r="1.15"/><circle cx="729.36" cy="546.64" r="1.15"/><circle cx="737.22" cy="548.1" r="1.15"/><circle cx="744.93" cy="550.23" r="1.15"/><circle cx="752.63" cy="552.37" r="1.15"/><circle cx="760.08" cy="555.29" r="1.15"/><circle cx="767.03" cy="559.23" r="1.15"/><circle cx="773.4" cy="564.06" r="1.15"/><circle cx="779.22" cy="569.54" r="1.15"/><circle cx="782.63" cy="573.46" r="1.15"/><circle cx="785.64" cy="577.7" r="1.15"/><circle cx="788.24" cy="582.2" r="1.15"/><circle cx="790.54" cy="586.87" r="1.15"/><circle cx="792.32" cy="591.75" r="1.15"/><circle cx="793.7" cy="596.76" r="1.15"/></g>
<path d="M562.7 603.9 L562.88 603.52 L563.12 603.03 L563.39 602.45 L563.7 601.8 L564.03 601.09 L564.38 600.36 L564.74 599.63 L565.1 598.91 L565.46 598.23 L565.8 597.6 L566.13 597.01 L566.48 596.42 L566.82 595.84 L567.18 595.26 L567.53 594.69 L567.89 594.14 L568.24 593.6 L568.6 593.08 L568.95 592.58 L569.3 592.1 L569.64 591.65 L569.98 591.22 L570.32 590.8 L570.66 590.41 L571 590.03 L571.34 589.67 L571.68 589.31 L572.02 588.97 L572.36 588.63 L572.7 588.3 L573.05 587.98 L573.4 587.66 L573.75 587.36 L574.1 587.07 L574.45 586.79 L574.8 586.51 L575.15 586.25 L575.5 585.99 L575.85 585.74 L576.2 585.5 L576.54 585.27 L576.88 585.05 L577.22 584.84 L577.56 584.65 L577.9 584.46 L578.24 584.27 L578.58 584.08 L578.92 583.89 L579.26 583.7 L579.6 583.5 L579.95 583.29 L580.29 583.08 L580.64 582.86 L580.99 582.65 L581.34 582.43 L581.7 582.22 L582.05 582 L582.4 581.8 L582.75 581.59 L583.1 581.4 L583.45 581.21 L583.8 581.03 L584.15 580.86 L584.5 580.69 L584.86 580.53 L585.21 580.36 L585.56 580.2 L585.91 580.03 L586.25 579.87 L586.6 579.7 L586.94 579.53 L587.28 579.37 L587.62 579.2 L587.96 579.04 L588.3 578.88 L588.64 578.71 L588.98 578.54 L589.32 578.37 L589.66 578.19 L590 578 L590.34 577.81 L590.68 577.61 L591.02 577.4 L591.36 577.19 L591.71 576.97 L592.05 576.76 L592.4 576.54 L592.76 576.33 L593.13 576.11 L593.5 575.9 L593.89 575.69 L594.28 575.48 L594.68 575.27 L595.09 575.06 L595.51 574.85 L595.92 574.64 L596.34 574.43 L596.76 574.22 L597.18 574.01 L597.6 573.8 L597.99 573.6 L598.33 573.43 L598.66 573.27 L598.98 573.11 L599.31 572.94 L599.67 572.76 L600.08 572.56 L600.56 572.32 L601.13 572.04 L601.8 571.7 L602.58 571.31 L603.47 570.86 L604.43 570.37 L605.46 569.84 L606.54 569.29 L607.66 568.73 L608.8 568.16 L609.95 567.59 L611.09 567.03 L612.2 566.5 L613.29 565.98 L614.39 565.46 L615.49 564.94 L616.61 564.42 L617.73 563.9 L618.87 563.38 L620.04 562.86 L621.23 562.34 L622.45 561.82 L623.7 561.3 L625 560.77 L626.33 560.24 L627.71 559.7 L629.11 559.16 L630.53 558.62 L631.96 558.09 L633.39 557.57 L634.81 557.06 L636.22 556.57 L637.6 556.1 L638.94 555.65 L640.23 555.22 L641.5 554.8 L642.75 554.4 L644.01 554.01 L645.3 553.62 L646.62 553.24 L648 552.86 L649.46 552.48 L651 552.1 L652.66 551.71 L654.42 551.32 L656.26 550.94 L658.17 550.55 L660.11 550.17 L662.06 549.79 L664 549.43 L665.9 549.07 L667.74 548.73 L669.5 548.4 L671.21 548.09 L672.92 547.78 L674.62 547.49 L676.29 547.21 L677.93 546.94 L679.52 546.67 L681.06 546.42 L682.52 546.17 L683.91 545.93 L685.2 545.7 L686.38 545.48 L687.46 545.27 L688.44 545.07 L689.35 544.88 L690.21 544.69 L691.03 544.51 L691.84 544.34 L692.66 544.16 L693.51 543.98 L694.4 543.8 L695.32 543.62 L696.23 543.44 L697.13 543.26 L698.04 543.08 L698.94 542.9 L699.86 542.72 L700.77 542.54 L701.7 542.36 L702.64 542.18 L703.6 542 L704.57 541.81 L705.55 541.61 L706.54 541.41 L707.54 541.21 L708.54 541.01 L709.56 540.81 L710.58 540.61 L711.61 540.43 L712.65 540.26 L713.7 540.1 L714.76 539.96 L715.82 539.82 L716.9 539.7 L717.98 539.58 L719.07 539.47 L720.17 539.37 L721.27 539.27 L722.38 539.18 L723.49 539.09 L724.6 539 L725.72 538.91 L726.84 538.82 L727.96 538.73 L729.09 538.65 L730.23 538.57 L731.37 538.5 L732.51 538.45 L733.67 538.41 L734.83 538.39 L736 538.4 L737.18 538.43 L738.38 538.48 L739.59 538.55 L740.8 538.63 L742.02 538.73 L743.25 538.84 L744.47 538.97 L745.69 539.1 L746.9 539.25 L748.1 539.4 L749.3 539.56 L750.5 539.73 L751.69 539.91 L752.89 540.1 L754.08 540.3 L755.27 540.51 L756.44 540.74 L757.61 540.98 L758.76 541.23 L759.9 541.5 L761.02 541.78 L762.13 542.08 L763.23 542.38 L764.31 542.7 L765.39 543.04 L766.46 543.38 L767.52 543.74 L768.58 544.12 L769.64 544.5 L770.7 544.9 L771.76 545.31 L772.83 545.75 L773.9 546.19 L774.97 546.65 L776.02 547.12 L777.07 547.61 L778.11 548.1 L779.13 548.59 L780.13 549.1 L781.1 549.6 L782.05 550.11 L782.98 550.63 L783.9 551.15 L784.8 551.68 L785.69 552.22 L786.56 552.76 L787.41 553.31 L788.26 553.87 L789.08 554.43 L789.9 555 L790.7 555.58 L791.5 556.18 L792.28 556.79 L793.04 557.4 L793.79 558.02 L794.53 558.64 L795.25 559.25 L795.95 559.85 L796.64 560.44 L797.3 561 L797.94 561.53 L798.56 562.04 L799.15 562.53 L799.73 563 L800.29 563.48 L800.84 563.95 L801.39 564.43 L801.93 564.93 L802.46 565.45 L803 566 L803.54 566.59 L804.09 567.21 L804.63 567.86 L805.16 568.52 L805.69 569.19 L806.21 569.87 L806.71 570.53 L807.2 571.18 L807.66 571.81 L808.1 572.4 L808.51 572.97 L808.9 573.51 L809.27 574.05 L809.63 574.57 L809.96 575.08 L810.29 575.57 L810.6 576.06 L810.9 576.55 L811.2 577.02 L811.5 577.5 L811.79 577.97 L812.06 578.42 L812.32 578.87 L812.57 579.31 L812.82 579.74 L813.06 580.17 L813.29 580.6 L813.53 581.03 L813.76 581.46 L814 581.9 L814.24 582.34 L814.48 582.78 L814.72 583.22 L814.95 583.66 L815.19 584.09 L815.42 584.53 L815.65 584.97 L815.87 585.41 L816.09 585.86 L816.3 586.3 L816.51 586.75 L816.72 587.2 L816.92 587.66 L817.12 588.13 L817.31 588.59 L817.5 589.05 L817.69 589.5 L817.86 589.94 L818.04 590.38 L818.2 590.8 L818.35 591.19 L818.49 591.56 L818.62 591.89 L818.74 592.22 L818.86 592.55 L818.98 592.89 L819.1 593.25 L819.22 593.65 L819.36 594.1 L819.5 594.6 L819.66 595.2 L819.84 595.89 L820.03 596.66 L820.23 597.47 L820.43 598.29 L820.62 599.09 L820.8 599.84 L820.96 600.51 L821.1 601.08 L821.2 601.5" fill="none" stroke="#111" stroke-width="1.1" stroke-linejoin="round"/>
<g fill="#000"><circle cx="562.7" cy="603.9" r="1.3"/><circle cx="564.68" cy="599.75" r="1.3"/><circle cx="566.9" cy="595.72" r="1.3"/><circle cx="569.45" cy="591.9" r="1.3"/><circle cx="572.52" cy="588.47" r="1.3"/><circle cx="576.09" cy="585.58" r="1.3"/><circle cx="580.04" cy="583.23" r="1.3"/><circle cx="584.02" cy="580.93" r="1.3"/><circle cx="588.17" cy="578.94" r="1.3"/><circle cx="592.17" cy="576.68" r="1.3"/><circle cx="596.22" cy="574.49" r="1.3"/><circle cx="603.37" cy="570.91" r="1.3"/><circle cx="610.51" cy="567.31" r="1.3"/><circle cx="617.75" cy="563.89" r="1.3"/><circle cx="625.09" cy="560.73" r="1.3"/><circle cx="632.56" cy="557.87" r="1.3"/><circle cx="640.12" cy="555.25" r="1.3"/><circle cx="647.78" cy="552.92" r="1.3"/><circle cx="655.56" cy="551.08" r="1.3"/><circle cx="663.41" cy="549.54" r="1.3"/><circle cx="671.27" cy="548.08" r="1.3"/><circle cx="679.16" cy="546.73" r="1.3"/><circle cx="687.04" cy="545.35" r="1.3"/><circle cx="697.81" cy="543.12" r="1.3"/><circle cx="708.6" cy="540.99" r="1.3"/><circle cx="719.49" cy="539.43" r="1.3"/><circle cx="730.45" cy="538.56" r="1.3"/><circle cx="741.44" cy="538.68" r="1.3"/><circle cx="752.36" cy="540.01" r="1.3"/><circle cx="763.1" cy="542.35" r="1.3"/><circle cx="771.15" cy="545.07" r="1.3"/><circle cx="778.92" cy="548.49" r="1.3"/><circle cx="786.35" cy="552.63" r="1.3"/><circle cx="793.25" cy="557.58" r="1.3"/><circle cx="799.77" cy="563.03" r="1.3"/><circle cx="805.65" cy="569.14" r="1.3"/><circle cx="808.96" cy="573.53" r="1.3"/><circle cx="811.91" cy="578.17" r="1.3"/><circle cx="814.59" cy="582.98" r="1.3"/><circle cx="817.02" cy="587.91" r="1.3"/><circle cx="819.03" cy="593.03" r="1.3"/><circle cx="820.44" cy="598.34" r="1.3"/></g>
<circle cx="563.7" cy="592.5" r="1.3" fill="#b01818"/>
<circle cx="585.2" cy="601.4" r="1.3" fill="#b01818"/>
</g>
<rect x="521" y="371" width="319.8" height="232.75" fill="none" stroke="#404040" stroke-width="1.1"/>
<text x="521" y="623.9" font-size="15.3" fill="#262626" text-anchor="middle">0</text>
<line x1="579.2" y1="371" x2="579.2" y2="374.3" stroke="#404040" stroke-width="1.1"/>
<line x1="579.2" y1="600.45" x2="579.2" y2="603.75" stroke="#404040" stroke-width="1.1"/>
<text x="579.2" y="623.9" font-size="15.3" fill="#262626" text-anchor="middle">0.2</text>
<line x1="637.4" y1="371" x2="637.4" y2="374.3" stroke="#404040" stroke-width="1.1"/>
<line x1="637.4" y1="600.45" x2="637.4" y2="603.75" stroke="#404040" stroke-width="1.1"/>
<text x="637.4" y="623.9" font-size="15.3" fill="#262626" text-anchor="middle">0.4</text>
<line x1="695.6" y1="371" x2="695.6" y2="374.3" stroke="#404040" stroke-width="1.1"/>
<line x1="695.6" y1="600.45" x2="695.6" y2="603.75" stroke="#404040" stroke-width="1.1"/>
<text x="695.6" y="623.9" font-size="15.3" fill="#262626" text-anchor="middle">0.6</text>
<line x1="753.8" y1="371" x2="753.8" y2="374.3" stroke="#404040" stroke-width="1.1"/>
<line x1="753.8" y1="600.45" x2="753.8" y2="603.75" stroke="#404040" stroke-width="1.1"/>
<text x="753.8" y="623.9" font-size="15.3" fill="#262626" text-anchor="middle">0.8</text>
<line x1="812" y1="371" x2="812" y2="374.3" stroke="#404040" stroke-width="1.1"/>
<line x1="812" y1="600.45" x2="812" y2="603.75" stroke="#404040" stroke-width="1.1"/>
<text x="812" y="623.9" font-size="15.3" fill="#262626" text-anchor="middle">1</text>
<text x="515.4" y="608.95" font-size="15.3" fill="#262626" text-anchor="end">0</text>
<line x1="521" y1="545.56" x2="524.3" y2="545.56" stroke="#404040" stroke-width="1.1"/>
<line x1="837.5" y1="545.56" x2="840.8" y2="545.56" stroke="#404040" stroke-width="1.1"/>
<text x="515.4" y="550.76" font-size="15.3" fill="#262626" text-anchor="end">0.2</text>
<line x1="521" y1="487.38" x2="524.3" y2="487.38" stroke="#404040" stroke-width="1.1"/>
<line x1="837.5" y1="487.38" x2="840.8" y2="487.38" stroke="#404040" stroke-width="1.1"/>
<text x="515.4" y="492.57" font-size="15.3" fill="#262626" text-anchor="end">0.4</text>
<line x1="521" y1="429.19" x2="524.3" y2="429.19" stroke="#404040" stroke-width="1.1"/>
<line x1="837.5" y1="429.19" x2="840.8" y2="429.19" stroke="#404040" stroke-width="1.1"/>
<text x="515.4" y="434.39" font-size="15.3" fill="#262626" text-anchor="end">0.6</text>
<text x="515.4" y="376.2" font-size="15.3" fill="#262626" text-anchor="end">0.8</text>
<text x="635.2" y="650.6" font-size="16.9" fill="#262626">Z<tspan font-size="11.6" dy="8.4">Re</tspan><tspan dy="-8.4"> (</tspan><tspan font-family="Liberation Serif, serif" font-size="18.5">Ω</tspan> cm<tspan font-size="12" dy="-7.8">2</tspan><tspan dy="7.8" dx="0.6">)</tspan></text>
<text transform="translate(481.4 487.4) rotate(-90)" font-size="16.9" fill="#262626" text-anchor="middle">-Z<tspan font-size="12.2" dy="8">Im</tspan><tspan dy="-8"> (</tspan><tspan font-family="Liberation Serif, serif" font-size="18">Ω</tspan> cm<tspan font-size="11.2" dy="-7.8">2</tspan><tspan dy="7.8">)</tspan></text>
<rect x="723.2" y="378.5" width="110.4" height="54.4" fill="#fff" stroke="#404040" stroke-width="1.1"/>
<line x1="726.2" y1="388.3" x2="755.7" y2="388.3" stroke="#dc9a9a" stroke-width="1"/>
<text x="758.8" y="393.8" font-size="13.6" fill="#000">Patterned A</text>
<line x1="726.2" y1="405.6" x2="755.7" y2="405.6" stroke="#d08080" stroke-width="1"/>
<text x="758.8" y="411.1" font-size="13.6" fill="#000">Patterned B</text>
<line x1="726.2" y1="422.9" x2="755.7" y2="422.9" stroke="#6a6a6a" stroke-width="1"/>
<text x="758.8" y="428.4" font-size="13.6" fill="#000">Pristine</text>
<text transform="translate(8.4 37) scale(0.7975 1)" font-size="28.5" style="font-family:'Liberation Sans', sans-serif" font-weight="bold" fill="#000" stroke="#000" stroke-width="0.6"><tspan>a</tspan></text>
<text transform="translate(9.6 348.8) scale(0.7516 1)" font-size="27.5" style="font-family:'Liberation Sans', sans-serif" font-weight="bold" fill="#000" stroke="#000" stroke-width="0.6"><tspan>c</tspan></text>
<text transform="translate(107 25.4) scale(1.0222 1)" font-size="17.2" style="font-family:'Liberation Sans', sans-serif" font-weight="bold" fill="#000"><tspan>Patterned Cell Cross-Section</tspan></text>
<text transform="translate(542.5 27.6) scale(1.0263 1)" font-size="17.8" style="font-family:'Liberation Sans', sans-serif" font-weight="bold" fill="#000"><tspan>3-point Bend Flexural Strength</tspan></text>
<text transform="translate(122.71 354.9) scale(1.0468 1)" font-size="17.6" style="font-family:'Liberation Sans', sans-serif" font-weight="bold" fill="#000"><tspan>j-V at 700C, 97% H</tspan><tspan font-size="11.62" dy="3.2">2</tspan><tspan dy="-3.2">: 3% H</tspan><tspan font-size="11.62" dy="3.2">2</tspan><tspan dy="-3.2">O</tspan></text>
<text transform="translate(551.2 357.8) scale(1.0211 1)" font-size="17.6" style="font-family:'Liberation Sans', sans-serif" font-weight="bold" fill="#000"><tspan>EIS at 700C, 97% H</tspan><tspan font-size="11.62" dy="3.2">2</tspan><tspan dy="-3.2">: 3% H</tspan><tspan font-size="11.62" dy="3.2">2</tspan><tspan dy="-3.2">O</tspan></text>
<rect x="505" y="657.6" width="340" height="62.4" fill="#fff"/>
<text transform="translate(23.4 684.3) scale(0.8869 1)" font-size="21.2" style="font-family:'Liberation Sans', sans-serif" font-weight="bold" fill="#000"><tspan>Eqn 1</tspan></text>
<text transform="translate(76.8 684.3) scale(0.5106 1)" font-size="21.2" style="font-family:'Liberation Sans', sans-serif" font-weight="bold" fill="#000"><tspan>:</tspan></text>
<text transform="translate(81.4 684.3) scale(0.9216 1)" font-size="22.5" style="font-family:'Liberation Serif', serif" font-style="italic" fill="#000"><tspan>V</tspan></text>
<text transform="translate(94.93 688.3) scale(1.2988 1)" font-size="17" style="font-family:'Liberation Serif', serif" font-style="italic" fill="#000"><tspan>IR−free</tspan></text>
<text transform="translate(172.7 683) scale(1.3468 1)" font-size="22" style="font-family:'Liberation Serif', serif" fill="#000"><tspan>=</tspan></text>
<text transform="translate(198.1 670.3) scale(1.0305 1)" font-size="16.5" style="font-family:'Liberation Serif', serif" font-style="italic" fill="#000"><tspan>RT</tspan></text>
<rect x="197" y="676.65" width="22.8" height="1.1" fill="#000"/>
<text transform="translate(198 695.7) scale(1.0703 1)" font-size="16.5" style="font-family:'Liberation Serif', serif" font-style="italic" fill="#000"><tspan>2F</tspan></text>
<path d="M233.56 658.83 C223.28 668.47 223.28 685.03 233.56 694.67" fill="none" stroke="#000" stroke-width="2.09" stroke-linecap="butt"/>
<text transform="translate(238.2 684.7) scale(0.7721 1)" font-size="21.5" style="font-family:'Liberation Serif', serif" fill="#000" stroke="#000" stroke-width="0.8"><tspan>1</tspan></text>
<text transform="translate(251.8 683.5) scale(1.2823 1)" font-size="22" style="font-family:'Liberation Serif', serif" fill="#000"><tspan>+</tspan></text>
<text transform="translate(278.8 671.5) scale(0.8706 1)" font-size="17" style="font-family:'Liberation Serif', serif" font-style="italic" fill="#000"><tspan>a</tspan></text>
<rect x="277" y="678.15" width="12.4" height="1.1" fill="#000"/>
<text transform="translate(277.8 695) scale(1.2541 1)" font-size="17" style="font-family:'Liberation Serif', serif" font-style="italic" fill="#000"><tspan>α</tspan></text>
<path d="M291.25 658.83 C300.86 668.47 300.86 685.03 291.25 694.67" fill="none" stroke="#000" stroke-width="2.09" stroke-linecap="butt"/>
<text transform="translate(306.1 683.4) scale(1.1629 1)" font-size="22" style="font-family:'Liberation Serif', serif" font-style="italic" fill="#000"><tspan>ln</tspan></text>
<path d="M341.35 654.93 C331.08 666.96 331.08 687.94 341.35 699.97" fill="none" stroke="#000" stroke-width="2.09" stroke-linecap="butt"/>
<text transform="translate(358.58 671.5) scale(1.3237 1)" font-size="18" style="font-family:'Liberation Serif', serif" font-style="italic" fill="#000"><tspan>j</tspan><tspan font-size="12.96" dy="2.5">lim</tspan><tspan font-size="12.96">,</tspan><tspan font-size="12.96">H</tspan><tspan font-size="9.9" dy="2.5">2</tspan><tspan font-size="12.96" dy="-2.5">O</tspan></text>
<rect x="343.2" y="676.75" width="91.4" height="1.1" fill="#000"/>
<text transform="translate(347.06 696.3) scale(1.3148 1)" font-size="18" style="font-family:'Liberation Serif', serif" font-style="italic" fill="#000"><tspan>j</tspan><tspan font-size="12.96" dy="2.5">lim</tspan><tspan font-size="12.96">,</tspan><tspan font-size="12.96">H</tspan><tspan font-size="9.9" dy="2.5">2</tspan><tspan font-size="12.96" dy="-2.5">O</tspan><tspan dy="-2.5">−j</tspan></text>
<path d="M435.65 654.93 C446.99 666.96 446.99 687.94 435.65 699.97" fill="none" stroke="#000" stroke-width="2.09" stroke-linecap="butt"/>
<text transform="translate(514.3 691) scale(0.9223 1)" font-size="20.4" style="font-family:'Liberation Sans', sans-serif" font-weight="bold" fill="#000"><tspan>Eqn 2:</tspan></text>
<text transform="translate(587.31 679.5) scale(1.2853 1)" font-size="18" style="font-family:'Liberation Serif', serif" font-style="italic" fill="#000"><tspan>j</tspan><tspan font-size="12.96" dy="2.5">lim</tspan></text>
<rect x="578.6" y="683.45" width="45" height="1.1" fill="#000"/>
<text transform="translate(581.72 704.3) scale(1.2938 1)" font-size="18" style="font-family:'Liberation Serif', serif" font-style="italic" fill="#000"><tspan>j</tspan><tspan font-size="12.96" dy="2.5">lim</tspan><tspan font-size="12.96">,0</tspan></text>
<text transform="translate(637.7 689.6) scale(1.1694 1)" font-size="22" style="font-family:'Liberation Serif', serif" fill="#000"><tspan>=</tspan></text>
<path d="M678.56 654.98 C666.4 670.64 666.4 698.16 678.56 713.82" fill="none" stroke="#000" stroke-width="2.28" stroke-linecap="butt"/>
<text transform="translate(683 691) scale(0.7535 1)" font-size="21.5" style="font-family:'Liberation Serif', serif" fill="#000" stroke="#000" stroke-width="0.8"><tspan>1</tspan></text>
<text transform="translate(705.2 690) scale(1.2016 1)" font-size="22" style="font-family:'Liberation Serif', serif" fill="#000"><tspan>+</tspan></text>
<text transform="translate(734.72 691) scale(0.9343 1)" font-size="21.5" style="font-family:'Liberation Serif', serif" font-style="italic" fill="#000"><tspan>A</tspan></text>
<path d="M758.55 665.27 C750.02 675.51 750.02 693.29 758.55 703.53" fill="none" stroke="#000" stroke-width="1.9" stroke-linecap="butt"/>
<text transform="translate(775.1 679) scale(1.5441 1)" font-size="18" style="font-family:'Liberation Serif', serif" font-style="italic" fill="#000"><tspan>t</tspan><tspan font-size="12.96" dy="2.3">c</tspan></text>
<rect x="763.7" y="683.85" width="39.4" height="1.1" fill="#000"/>
<text transform="translate(764.7 703.5) scale(1.2039 1)" font-size="18" style="font-family:'Liberation Serif', serif" font-style="italic" fill="#000"><tspan>1</tspan><tspan>−t</tspan><tspan font-size="12.96" dy="2.3">c</tspan></text>
<path d="M805.05 665.27 C813.58 675.51 813.58 693.29 805.05 703.53" fill="none" stroke="#000" stroke-width="1.9" stroke-linecap="butt"/>
<path d="M815.64 654.98 C827.8 670.64 827.8 698.16 815.64 713.82" fill="none" stroke="#000" stroke-width="2.28" stroke-linecap="butt"/>
</svg></body></html>
